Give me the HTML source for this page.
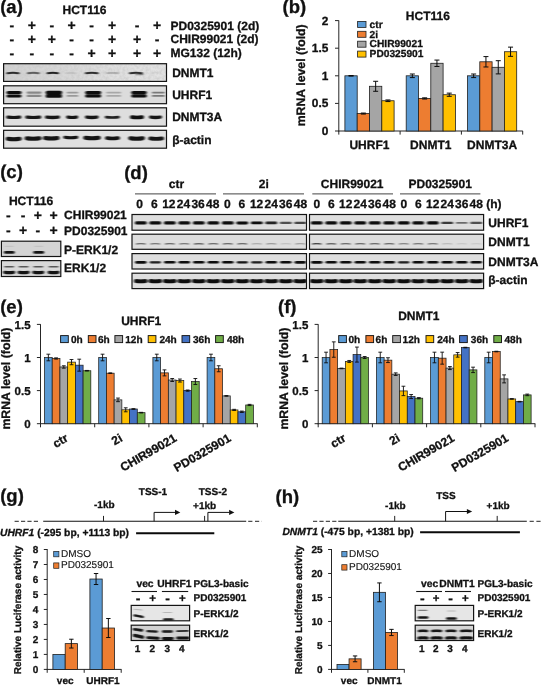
<!DOCTYPE html>
<html lang="en"><head><meta charset="utf-8"><title>Figure</title>
<style>
html,body{margin:0;padding:0;background:#fff}
svg{display:block}
text{font-family:"Liberation Sans",Arial,Helvetica,sans-serif;font-weight:700;fill:#111;stroke:#111;stroke-width:.3px;text-rendering:geometricPrecision}
text.r{stroke-width:.12px;font-weight:400}
</style></head><body>
<svg width="541" height="685" viewBox="0 0 541 685">
<defs>
<filter id="b55" filterUnits="userSpaceOnUse" x="0" y="0" width="541" height="685"><feGaussianBlur stdDeviation="0.9 0.55"/></filter>
<filter id="b40" filterUnits="userSpaceOnUse" x="0" y="0" width="541" height="685"><feGaussianBlur stdDeviation="0.8 0.4"/></filter>
<filter id="b70" filterUnits="userSpaceOnUse" x="0" y="0" width="541" height="685"><feGaussianBlur stdDeviation="1.0 0.7"/></filter>
<filter id="nz" x="0" y="0" width="100%" height="100%"><feTurbulence type="fractalNoise" baseFrequency="0.35" numOctaves="2" seed="3"/><feColorMatrix type="matrix" values="0 0 0 0 0  0 0 0 0 0  0 0 0 0 0  0 0 0 -1.6 1.1"/><feComposite in="SourceGraphic" operator="in"/></filter>
<linearGradient id="ga" x1="0" y1="0" x2="1" y2="0"><stop offset="0" stop-color="#d1d1d1"/><stop offset="0.45" stop-color="#d9d9d9"/><stop offset="0.7" stop-color="#e0e0e0"/><stop offset="1" stop-color="#e3e3e3"/></linearGradient>
</defs>
<rect width="541" height="685" fill="#fff"/>

<text x="0.20" y="13.20" font-size="18.5">(a)</text>
<text x="62.50" y="13.80" font-size="12">HCT116</text>
<text x="11.80" y="29.98" font-size="14" text-anchor="middle">-</text>
<text x="31.80" y="29.82" font-size="14" text-anchor="middle">+</text>
<text x="51.80" y="29.98" font-size="14" text-anchor="middle">-</text>
<text x="71.50" y="29.82" font-size="14" text-anchor="middle">+</text>
<text x="91.50" y="29.98" font-size="14" text-anchor="middle">-</text>
<text x="112.00" y="29.82" font-size="14" text-anchor="middle">+</text>
<text x="137.00" y="29.98" font-size="14" text-anchor="middle">-</text>
<text x="157.20" y="29.82" font-size="14" text-anchor="middle">+</text>
<text x="170.50" y="29.70" font-size="12">PD0325901 (2d)</text>
<text x="11.80" y="43.98" font-size="14" text-anchor="middle">-</text>
<text x="31.80" y="43.82" font-size="14" text-anchor="middle">+</text>
<text x="51.80" y="43.82" font-size="14" text-anchor="middle">+</text>
<text x="71.50" y="43.98" font-size="14" text-anchor="middle">-</text>
<text x="91.50" y="43.98" font-size="14" text-anchor="middle">-</text>
<text x="112.00" y="43.82" font-size="14" text-anchor="middle">+</text>
<text x="137.00" y="43.82" font-size="14" text-anchor="middle">+</text>
<text x="157.20" y="43.98" font-size="14" text-anchor="middle">-</text>
<text x="170.50" y="43.30" font-size="12">CHIR99021 (2d)</text>
<text x="11.80" y="57.78" font-size="14" text-anchor="middle">-</text>
<text x="31.80" y="57.78" font-size="14" text-anchor="middle">-</text>
<text x="51.80" y="57.78" font-size="14" text-anchor="middle">-</text>
<text x="71.50" y="57.78" font-size="14" text-anchor="middle">-</text>
<text x="91.50" y="57.62" font-size="14" text-anchor="middle">+</text>
<text x="112.00" y="57.62" font-size="14" text-anchor="middle">+</text>
<text x="137.00" y="57.62" font-size="14" text-anchor="middle">+</text>
<text x="157.20" y="57.62" font-size="14" text-anchor="middle">+</text>
<text x="170.50" y="57.20" font-size="12">MG132 (12h)</text>
<rect x="3.60" y="63.70" width="162.90" height="17.70" fill="url(#ga)"/>
<rect x="3.60" y="63.70" width="162.90" height="17.70" fill="#c6c6c6" opacity="0.7" filter="url(#nz)"/>
<clipPath id="c32"><rect x="3.60" y="63.70" width="162.90" height="17.70"/></clipPath>
<g clip-path="url(#c32)"><g filter="url(#b40)">
<path d="M7.35 73.15Q13.00 72.15 18.65 73.15" fill="none" stroke="#0a0a0a" stroke-width="2.00" stroke-linecap="round" opacity="0.85"/>
<path d="M27.80 73.15Q33.30 72.15 38.80 73.15" fill="none" stroke="#0a0a0a" stroke-width="2.00" stroke-linecap="round" opacity="0.55"/>
<path d="M47.55 73.15Q52.80 72.15 58.05 73.15" fill="none" stroke="#0a0a0a" stroke-width="2.00" stroke-linecap="round" opacity="0.90"/>
<path d="M67.00 73.15Q71.00 72.15 75.00 73.15" fill="none" stroke="#0a0a0a" stroke-width="2.00" stroke-linecap="round" opacity="0.10"/>
<path d="M86.00 73.15Q91.80 72.15 97.60 73.15" fill="none" stroke="#0a0a0a" stroke-width="2.00" stroke-linecap="round" opacity="0.85"/>
<path d="M107.00 73.15Q112.50 72.15 118.00 73.15" fill="none" stroke="#0a0a0a" stroke-width="2.00" stroke-linecap="round" opacity="0.20"/>
<path d="M130.00 73.15Q136.00 72.15 142.00 73.15" fill="none" stroke="#0a0a0a" stroke-width="2.00" stroke-linecap="round" opacity="0.85"/>
<path d="M151.00 73.15Q155.00 72.15 159.00 73.15" fill="none" stroke="#0a0a0a" stroke-width="2.00" stroke-linecap="round" opacity="0.04"/>
<path d="M136.10 74.60Q139.50 74.60 142.90 74.60" fill="none" stroke="#0a0a0a" stroke-width="1.20" stroke-linecap="round" opacity="0.35"/>
</g></g>
<rect x="3.60" y="63.70" width="162.90" height="17.70" fill="none" stroke="#141414" stroke-width="1.2"/>
<rect x="3.60" y="85.80" width="162.90" height="17.90" fill="#dcdcdc"/>
<clipPath id="c46"><rect x="3.60" y="85.80" width="162.90" height="17.90"/></clipPath>
<g clip-path="url(#c46)"><g filter="url(#b70)">
<path d="M8.00 92.60Q14.00 92.60 20.00 92.60" fill="none" stroke="#0a0a0a" stroke-width="3.00" stroke-linecap="round" opacity="1.00"/>
<path d="M8.00 95.90Q14.00 95.90 20.00 95.90" fill="none" stroke="#0a0a0a" stroke-width="3.00" stroke-linecap="round" opacity="1.00"/>
<path d="M27.65 92.60Q34.10 92.60 40.55 92.60" fill="none" stroke="#0a0a0a" stroke-width="2.10" stroke-linecap="round" opacity="0.38"/>
<path d="M27.65 95.90Q34.10 95.90 40.55 95.90" fill="none" stroke="#0a0a0a" stroke-width="2.10" stroke-linecap="round" opacity="0.38"/>
<path d="M47.50 92.60Q53.90 92.60 60.30 92.60" fill="none" stroke="#0a0a0a" stroke-width="3.70" stroke-linecap="round" opacity="1.00"/>
<path d="M47.50 95.90Q53.90 95.90 60.30 95.90" fill="none" stroke="#0a0a0a" stroke-width="3.70" stroke-linecap="round" opacity="1.00"/>
<path d="M67.55 92.60Q72.50 92.60 77.45 92.60" fill="none" stroke="#0a0a0a" stroke-width="1.80" stroke-linecap="round" opacity="0.30"/>
<path d="M67.55 95.90Q72.50 95.90 77.45 95.90" fill="none" stroke="#0a0a0a" stroke-width="1.80" stroke-linecap="round" opacity="0.30"/>
<path d="M86.80 92.60Q93.20 92.60 99.60 92.60" fill="none" stroke="#0a0a0a" stroke-width="3.20" stroke-linecap="round" opacity="1.00"/>
<path d="M86.80 95.90Q93.20 95.90 99.60 95.90" fill="none" stroke="#0a0a0a" stroke-width="3.20" stroke-linecap="round" opacity="1.00"/>
<path d="M107.10 92.60Q113.70 92.60 120.30 92.60" fill="none" stroke="#0a0a0a" stroke-width="1.80" stroke-linecap="round" opacity="0.24"/>
<path d="M107.10 95.90Q113.70 95.90 120.30 95.90" fill="none" stroke="#0a0a0a" stroke-width="1.80" stroke-linecap="round" opacity="0.24"/>
<path d="M132.95 92.60Q139.00 92.60 145.05 92.60" fill="none" stroke="#0a0a0a" stroke-width="3.40" stroke-linecap="round" opacity="1.00"/>
<path d="M132.95 95.90Q139.00 95.90 145.05 95.90" fill="none" stroke="#0a0a0a" stroke-width="3.40" stroke-linecap="round" opacity="1.00"/>
<path d="M152.75 92.60Q158.30 92.60 163.85 92.60" fill="none" stroke="#0a0a0a" stroke-width="1.90" stroke-linecap="round" opacity="0.45"/>
<path d="M152.75 95.90Q158.30 95.90 163.85 95.90" fill="none" stroke="#0a0a0a" stroke-width="1.90" stroke-linecap="round" opacity="0.45"/>
</g></g>
<rect x="3.60" y="85.80" width="162.90" height="17.90" fill="none" stroke="#141414" stroke-width="1.2"/>
<rect x="3.60" y="107.80" width="162.90" height="18.40" fill="#dedede"/>
<clipPath id="c67"><rect x="3.60" y="107.80" width="162.90" height="18.40"/></clipPath>
<g clip-path="url(#c67)"><g filter="url(#b40)">
<path d="M7.85 117.10Q13.80 117.90 19.75 117.10" fill="none" stroke="#0a0a0a" stroke-width="3.10" stroke-linecap="round" opacity="0.97"/>
<path d="M26.90 117.10Q33.30 117.90 39.70 117.10" fill="none" stroke="#0a0a0a" stroke-width="3.20" stroke-linecap="round" opacity="0.95"/>
<path d="M46.65 117.10Q52.50 117.90 58.35 117.10" fill="none" stroke="#0a0a0a" stroke-width="3.30" stroke-linecap="round" opacity="0.97"/>
<path d="M67.80 117.10Q72.20 117.90 76.60 117.10" fill="none" stroke="#0a0a0a" stroke-width="3.20" stroke-linecap="round" opacity="0.97"/>
<path d="M86.65 117.10Q91.80 117.90 96.95 117.10" fill="none" stroke="#0a0a0a" stroke-width="3.30" stroke-linecap="round" opacity="0.97"/>
<path d="M106.10 117.10Q112.30 117.90 118.50 117.10" fill="none" stroke="#0a0a0a" stroke-width="2.60" stroke-linecap="round" opacity="0.90"/>
<path d="M131.85 117.10Q137.00 117.90 142.15 117.10" fill="none" stroke="#0a0a0a" stroke-width="3.70" stroke-linecap="round" opacity="1.00"/>
<path d="M150.65 117.10Q155.50 117.90 160.35 117.10" fill="none" stroke="#0a0a0a" stroke-width="3.30" stroke-linecap="round" opacity="0.97"/>
</g></g>
<rect x="3.60" y="107.80" width="162.90" height="18.40" fill="none" stroke="#141414" stroke-width="1.2"/>
<rect x="3.60" y="130.30" width="162.90" height="17.90" fill="#e0e0e0"/>
<clipPath id="c80"><rect x="3.60" y="130.30" width="162.90" height="17.90"/></clipPath>
<g clip-path="url(#c80)"><g filter="url(#b40)">
<path d="M7.70 138.75Q13.70 139.75 19.70 138.75" fill="none" stroke="#0a0a0a" stroke-width="4.00" stroke-linecap="round" opacity="0.97"/>
<path d="M26.60 138.35Q33.10 139.35 39.60 138.35" fill="none" stroke="#0a0a0a" stroke-width="4.00" stroke-linecap="round" opacity="0.97"/>
<path d="M45.00 138.05Q51.30 139.05 57.60 138.05" fill="none" stroke="#0a0a0a" stroke-width="4.00" stroke-linecap="round" opacity="0.97"/>
<path d="M64.80 137.35Q70.80 138.35 76.80 137.35" fill="none" stroke="#0a0a0a" stroke-width="3.00" stroke-linecap="round" opacity="0.97"/>
<path d="M85.25 137.85Q92.00 138.85 98.75 137.85" fill="none" stroke="#0a0a0a" stroke-width="4.00" stroke-linecap="round" opacity="0.97"/>
<path d="M106.80 138.05Q112.50 139.05 118.20 138.05" fill="none" stroke="#0a0a0a" stroke-width="3.60" stroke-linecap="round" opacity="0.97"/>
<path d="M130.25 138.15Q136.60 139.15 142.95 138.15" fill="none" stroke="#0a0a0a" stroke-width="4.00" stroke-linecap="round" opacity="0.97"/>
<path d="M150.25 138.45Q156.20 139.45 162.15 138.45" fill="none" stroke="#0a0a0a" stroke-width="3.80" stroke-linecap="round" opacity="0.97"/>
</g></g>
<rect x="3.60" y="130.30" width="162.90" height="17.90" fill="none" stroke="#141414" stroke-width="1.2"/>
<text x="172.20" y="77.30" font-size="12">DNMT1</text>
<text x="172.20" y="99.20" font-size="12">UHRF1</text>
<text x="172.20" y="121.30" font-size="12">DNMT3A</text>
<text x="172.20" y="143.80" font-size="12">β-actin</text>
<text x="282.60" y="13.30" font-size="18.5">(b)</text>
<text x="405.80" y="20.10" font-size="12">HCT116</text>
<line x1="338.80" y1="20.40" x2="338.80" y2="131.50" stroke="#262626" stroke-width="1"/>
<line x1="338.30" y1="131.00" x2="522.80" y2="131.00" stroke="#262626" stroke-width="1"/>
<line x1="335.00" y1="131.00" x2="338.80" y2="131.00" stroke="#262626" stroke-width="1"/>
<text x="328.40" y="134.90" font-size="11.9" text-anchor="end">0</text>
<line x1="335.00" y1="103.40" x2="338.80" y2="103.40" stroke="#262626" stroke-width="1"/>
<text x="328.40" y="107.30" font-size="11.9" text-anchor="end">0.5</text>
<line x1="335.00" y1="75.80" x2="338.80" y2="75.80" stroke="#262626" stroke-width="1"/>
<text x="328.40" y="79.70" font-size="11.9" text-anchor="end">1</text>
<line x1="335.00" y1="48.20" x2="338.80" y2="48.20" stroke="#262626" stroke-width="1"/>
<text x="328.40" y="52.10" font-size="11.9" text-anchor="end">1.5</text>
<line x1="335.00" y1="20.60" x2="338.80" y2="20.60" stroke="#262626" stroke-width="1"/>
<text x="328.40" y="24.50" font-size="11.9" text-anchor="end">2</text>
<line x1="338.80" y1="131.00" x2="338.80" y2="134.60" stroke="#262626" stroke-width="1"/>
<line x1="400.10" y1="131.00" x2="400.10" y2="134.60" stroke="#262626" stroke-width="1"/>
<line x1="461.40" y1="131.00" x2="461.40" y2="134.60" stroke="#262626" stroke-width="1"/>
<line x1="522.70" y1="131.00" x2="522.70" y2="134.60" stroke="#262626" stroke-width="1"/>
<text x="305.40" y="75.30" font-size="12.3" text-anchor="middle" transform="rotate(-90 305.40 75.30)">mRNA level (fold)</text>
<rect x="344.90" y="75.80" width="12.30" height="55.20" fill="#5B9BD5" stroke="#1f1f1f" stroke-width="0.8"/>
<rect x="357.20" y="113.56" width="12.30" height="17.44" fill="#ED7D31" stroke="#1f1f1f" stroke-width="0.8"/>
<rect x="369.50" y="86.29" width="12.30" height="44.71" fill="#A5A5A5" stroke="#1f1f1f" stroke-width="0.8"/>
<rect x="381.80" y="100.75" width="12.30" height="30.25" fill="#FFC000" stroke="#1f1f1f" stroke-width="0.8"/>
<line x1="351.05" y1="75.50" x2="351.05" y2="76.10" stroke="#0c0c0c" stroke-width="1.0"/>
<line x1="348.55" y1="75.50" x2="353.55" y2="75.50" stroke="#0c0c0c" stroke-width="1.0"/>
<line x1="348.55" y1="76.10" x2="353.55" y2="76.10" stroke="#0c0c0c" stroke-width="1.0"/>
<line x1="363.35" y1="113.06" x2="363.35" y2="114.06" stroke="#0c0c0c" stroke-width="1.0"/>
<line x1="360.85" y1="113.06" x2="365.85" y2="113.06" stroke="#0c0c0c" stroke-width="1.0"/>
<line x1="360.85" y1="114.06" x2="365.85" y2="114.06" stroke="#0c0c0c" stroke-width="1.0"/>
<line x1="375.65" y1="81.29" x2="375.65" y2="91.29" stroke="#0c0c0c" stroke-width="1.0"/>
<line x1="373.15" y1="81.29" x2="378.15" y2="81.29" stroke="#0c0c0c" stroke-width="1.0"/>
<line x1="373.15" y1="91.29" x2="378.15" y2="91.29" stroke="#0c0c0c" stroke-width="1.0"/>
<line x1="387.95" y1="99.95" x2="387.95" y2="101.55" stroke="#0c0c0c" stroke-width="1.0"/>
<line x1="385.45" y1="99.95" x2="390.45" y2="99.95" stroke="#0c0c0c" stroke-width="1.0"/>
<line x1="385.45" y1="101.55" x2="390.45" y2="101.55" stroke="#0c0c0c" stroke-width="1.0"/>
<rect x="406.20" y="75.80" width="12.30" height="55.20" fill="#5B9BD5" stroke="#1f1f1f" stroke-width="0.8"/>
<rect x="418.50" y="98.43" width="12.30" height="32.57" fill="#ED7D31" stroke="#1f1f1f" stroke-width="0.8"/>
<rect x="430.80" y="63.27" width="12.30" height="67.73" fill="#A5A5A5" stroke="#1f1f1f" stroke-width="0.8"/>
<rect x="443.10" y="94.73" width="12.30" height="36.27" fill="#FFC000" stroke="#1f1f1f" stroke-width="0.8"/>
<line x1="412.35" y1="74.00" x2="412.35" y2="77.60" stroke="#0c0c0c" stroke-width="1.0"/>
<line x1="409.85" y1="74.00" x2="414.85" y2="74.00" stroke="#0c0c0c" stroke-width="1.0"/>
<line x1="409.85" y1="77.60" x2="414.85" y2="77.60" stroke="#0c0c0c" stroke-width="1.0"/>
<line x1="424.65" y1="97.83" x2="424.65" y2="99.03" stroke="#0c0c0c" stroke-width="1.0"/>
<line x1="422.15" y1="97.83" x2="427.15" y2="97.83" stroke="#0c0c0c" stroke-width="1.0"/>
<line x1="422.15" y1="99.03" x2="427.15" y2="99.03" stroke="#0c0c0c" stroke-width="1.0"/>
<line x1="436.95" y1="60.07" x2="436.95" y2="66.47" stroke="#0c0c0c" stroke-width="1.0"/>
<line x1="434.45" y1="60.07" x2="439.45" y2="60.07" stroke="#0c0c0c" stroke-width="1.0"/>
<line x1="434.45" y1="66.47" x2="439.45" y2="66.47" stroke="#0c0c0c" stroke-width="1.0"/>
<line x1="449.25" y1="93.13" x2="449.25" y2="96.33" stroke="#0c0c0c" stroke-width="1.0"/>
<line x1="446.75" y1="93.13" x2="451.75" y2="93.13" stroke="#0c0c0c" stroke-width="1.0"/>
<line x1="446.75" y1="96.33" x2="451.75" y2="96.33" stroke="#0c0c0c" stroke-width="1.0"/>
<rect x="467.50" y="75.80" width="12.30" height="55.20" fill="#5B9BD5" stroke="#1f1f1f" stroke-width="0.8"/>
<rect x="479.80" y="61.78" width="12.30" height="69.22" fill="#ED7D31" stroke="#1f1f1f" stroke-width="0.8"/>
<rect x="492.10" y="67.30" width="12.30" height="63.70" fill="#A5A5A5" stroke="#1f1f1f" stroke-width="0.8"/>
<rect x="504.40" y="51.73" width="12.30" height="79.27" fill="#FFC000" stroke="#1f1f1f" stroke-width="0.8"/>
<line x1="473.65" y1="74.00" x2="473.65" y2="77.60" stroke="#0c0c0c" stroke-width="1.0"/>
<line x1="471.15" y1="74.00" x2="476.15" y2="74.00" stroke="#0c0c0c" stroke-width="1.0"/>
<line x1="471.15" y1="77.60" x2="476.15" y2="77.60" stroke="#0c0c0c" stroke-width="1.0"/>
<line x1="485.95" y1="56.58" x2="485.95" y2="66.98" stroke="#0c0c0c" stroke-width="1.0"/>
<line x1="483.45" y1="56.58" x2="488.45" y2="56.58" stroke="#0c0c0c" stroke-width="1.0"/>
<line x1="483.45" y1="66.98" x2="488.45" y2="66.98" stroke="#0c0c0c" stroke-width="1.0"/>
<line x1="498.25" y1="60.70" x2="498.25" y2="73.90" stroke="#0c0c0c" stroke-width="1.0"/>
<line x1="495.75" y1="60.70" x2="500.75" y2="60.70" stroke="#0c0c0c" stroke-width="1.0"/>
<line x1="495.75" y1="73.90" x2="500.75" y2="73.90" stroke="#0c0c0c" stroke-width="1.0"/>
<line x1="510.55" y1="47.13" x2="510.55" y2="56.33" stroke="#0c0c0c" stroke-width="1.0"/>
<line x1="508.05" y1="47.13" x2="513.05" y2="47.13" stroke="#0c0c0c" stroke-width="1.0"/>
<line x1="508.05" y1="56.33" x2="513.05" y2="56.33" stroke="#0c0c0c" stroke-width="1.0"/>
<text x="369.45" y="149.40" font-size="12" text-anchor="middle">UHRF1</text>
<text x="430.75" y="149.40" font-size="12" text-anchor="middle">DNMT1</text>
<text x="492.05" y="149.40" font-size="12" text-anchor="middle">DNMT3A</text>
<rect x="357.60" y="21.40" width="8.40" height="6.00" fill="#5B9BD5" stroke="#1f1f1f" stroke-width="0.8"/>
<text x="369.60" y="27.60" font-size="10.2">ctr</text>
<rect x="357.60" y="31.30" width="8.40" height="6.00" fill="#ED7D31" stroke="#1f1f1f" stroke-width="0.8"/>
<text x="369.60" y="37.50" font-size="10.2">2i</text>
<rect x="357.60" y="41.20" width="8.40" height="6.00" fill="#A5A5A5" stroke="#1f1f1f" stroke-width="0.8"/>
<text x="369.60" y="47.40" font-size="10.2">CHIR99021</text>
<rect x="357.60" y="51.10" width="8.40" height="6.00" fill="#FFC000" stroke="#1f1f1f" stroke-width="0.8"/>
<text x="369.60" y="57.30" font-size="10.2">PD0325901</text>
<text x="0.20" y="178.40" font-size="18.5">(c)</text>
<text x="8.90" y="204.70" font-size="12.1">HCT116</text>
<text x="8.30" y="220.18" font-size="14" text-anchor="middle">-</text>
<text x="23.10" y="220.18" font-size="14" text-anchor="middle">-</text>
<text x="37.80" y="220.02" font-size="14" text-anchor="middle">+</text>
<text x="53.50" y="220.02" font-size="14" text-anchor="middle">+</text>
<text x="64.10" y="219.10" font-size="12">CHIR99021</text>
<text x="8.30" y="235.48" font-size="14" text-anchor="middle">-</text>
<text x="23.10" y="235.32" font-size="14" text-anchor="middle">+</text>
<text x="37.80" y="235.48" font-size="14" text-anchor="middle">-</text>
<text x="53.50" y="235.32" font-size="14" text-anchor="middle">+</text>
<text x="64.10" y="234.90" font-size="12">PD0325901</text>
<rect x="1.40" y="241.20" width="59.40" height="15.30" fill="#d4d4d4"/>
<clipPath id="c187"><rect x="1.40" y="241.20" width="59.40" height="15.30"/></clipPath>
<g clip-path="url(#c187)"><g filter="url(#b40)">
<path d="M5.40 252.40Q9.30 252.40 13.20 252.40" fill="none" stroke="#0a0a0a" stroke-width="2.80" stroke-linecap="round" opacity="0.97"/>
<path d="M34.70 252.40Q38.70 252.40 42.70 252.40" fill="none" stroke="#0a0a0a" stroke-width="2.80" stroke-linecap="round" opacity="0.97"/>
<path d="M5.30 246.30Q9.30 246.30 13.30 246.30" fill="none" stroke="#0a0a0a" stroke-width="1.00" stroke-linecap="round" opacity="0.10"/>
<path d="M34.70 246.30Q38.70 246.30 42.70 246.30" fill="none" stroke="#0a0a0a" stroke-width="1.00" stroke-linecap="round" opacity="0.10"/>
</g></g>
<rect x="1.40" y="241.20" width="59.40" height="15.30" fill="none" stroke="#141414" stroke-width="1.2"/>
<rect x="1.40" y="260.60" width="59.40" height="15.90" fill="#d8d8d8"/>
<clipPath id="c196"><rect x="1.40" y="260.60" width="59.40" height="15.90"/></clipPath>
<g clip-path="url(#c196)"><g filter="url(#b40)">
<path d="M4.90 266.80Q9.20 266.80 13.50 266.80" fill="none" stroke="#0a0a0a" stroke-width="1.40" stroke-linecap="round" opacity="0.60"/>
<path d="M4.90 272.35Q9.20 272.95 13.50 272.35" fill="none" stroke="#0a0a0a" stroke-width="3.40" stroke-linecap="round" opacity="0.97"/>
<path d="M19.30 266.80Q23.60 266.80 27.90 266.80" fill="none" stroke="#0a0a0a" stroke-width="1.40" stroke-linecap="round" opacity="0.60"/>
<path d="M19.30 272.35Q23.60 272.95 27.90 272.35" fill="none" stroke="#0a0a0a" stroke-width="3.40" stroke-linecap="round" opacity="0.97"/>
<path d="M34.00 266.80Q38.30 266.80 42.60 266.80" fill="none" stroke="#0a0a0a" stroke-width="1.40" stroke-linecap="round" opacity="0.60"/>
<path d="M34.00 272.35Q38.30 272.95 42.60 272.35" fill="none" stroke="#0a0a0a" stroke-width="3.40" stroke-linecap="round" opacity="0.97"/>
<path d="M49.30 266.80Q53.60 266.80 57.90 266.80" fill="none" stroke="#0a0a0a" stroke-width="1.40" stroke-linecap="round" opacity="0.60"/>
<path d="M49.30 272.35Q53.60 272.95 57.90 272.35" fill="none" stroke="#0a0a0a" stroke-width="3.40" stroke-linecap="round" opacity="0.97"/>
</g></g>
<rect x="1.40" y="260.60" width="59.40" height="15.90" fill="none" stroke="#141414" stroke-width="1.2"/>
<text x="64.10" y="253.70" font-size="12">P-ERK1/2</text>
<text x="64.10" y="272.40" font-size="12">ERK1/2</text>
<text x="124.20" y="178.60" font-size="18.5">(d)</text>
<text x="176.50" y="187.60" font-size="12" text-anchor="middle">ctr</text>
<text x="263.80" y="187.60" font-size="12" text-anchor="middle">2i</text>
<text x="352.20" y="187.60" font-size="12" text-anchor="middle">CHIR99021</text>
<text x="440.20" y="187.60" font-size="12" text-anchor="middle">PD0325901</text>
<line x1="135.00" y1="193.90" x2="216.00" y2="193.90" stroke="#444" stroke-width="1"/>
<line x1="223.00" y1="193.90" x2="304.00" y2="193.90" stroke="#444" stroke-width="1"/>
<line x1="312.30" y1="193.90" x2="393.00" y2="193.90" stroke="#444" stroke-width="1"/>
<line x1="400.00" y1="193.90" x2="480.40" y2="193.90" stroke="#444" stroke-width="1"/>
<text x="139.60" y="207.90" font-size="12" text-anchor="middle">0</text>
<text x="154.22" y="207.90" font-size="12" text-anchor="middle">6</text>
<text x="168.84" y="207.90" font-size="12" text-anchor="middle">12</text>
<text x="183.46" y="207.90" font-size="12" text-anchor="middle">24</text>
<text x="198.08" y="207.90" font-size="12" text-anchor="middle">36</text>
<text x="212.70" y="207.90" font-size="12" text-anchor="middle">48</text>
<text x="227.32" y="207.90" font-size="12" text-anchor="middle">0</text>
<text x="241.94" y="207.90" font-size="12" text-anchor="middle">6</text>
<text x="256.56" y="207.90" font-size="12" text-anchor="middle">12</text>
<text x="271.18" y="207.90" font-size="12" text-anchor="middle">24</text>
<text x="285.80" y="207.90" font-size="12" text-anchor="middle">36</text>
<text x="300.42" y="207.90" font-size="12" text-anchor="middle">48</text>
<text x="316.75" y="207.90" font-size="12" text-anchor="middle">0</text>
<text x="331.25" y="207.90" font-size="12" text-anchor="middle">6</text>
<text x="345.75" y="207.90" font-size="12" text-anchor="middle">12</text>
<text x="360.25" y="207.90" font-size="12" text-anchor="middle">24</text>
<text x="374.75" y="207.90" font-size="12" text-anchor="middle">36</text>
<text x="389.25" y="207.90" font-size="12" text-anchor="middle">48</text>
<text x="403.75" y="207.90" font-size="12" text-anchor="middle">0</text>
<text x="418.25" y="207.90" font-size="12" text-anchor="middle">6</text>
<text x="432.75" y="207.90" font-size="12" text-anchor="middle">12</text>
<text x="447.25" y="207.90" font-size="12" text-anchor="middle">24</text>
<text x="461.75" y="207.90" font-size="12" text-anchor="middle">36</text>
<text x="476.25" y="207.90" font-size="12" text-anchor="middle">48</text>
<text x="486.30" y="207.90" font-size="12">(h)</text>
<rect x="132.00" y="214.50" width="174.50" height="15.70" fill="#dedede"/>
<clipPath id="c245"><rect x="132.00" y="214.50" width="174.50" height="15.70"/></clipPath>
<g clip-path="url(#c245)"><g filter="url(#b40)">
<path d="M136.55 222.90Q140.80 222.90 145.05 222.90" fill="none" stroke="#0a0a0a" stroke-width="3.30" stroke-linecap="round" opacity="1.00"/>
<path d="M150.99 222.90Q155.30 222.90 159.61 222.90" fill="none" stroke="#0a0a0a" stroke-width="3.18" stroke-linecap="round" opacity="1.00"/>
<path d="M165.55 222.90Q169.80 222.90 174.05 222.90" fill="none" stroke="#0a0a0a" stroke-width="3.30" stroke-linecap="round" opacity="1.00"/>
<path d="M180.05 222.90Q184.30 222.90 188.55 222.90" fill="none" stroke="#0a0a0a" stroke-width="3.30" stroke-linecap="round" opacity="1.00"/>
<path d="M194.55 222.90Q198.80 222.90 203.05 222.90" fill="none" stroke="#0a0a0a" stroke-width="3.30" stroke-linecap="round" opacity="1.00"/>
<path d="M209.05 222.90Q213.30 222.90 217.55 222.90" fill="none" stroke="#0a0a0a" stroke-width="3.30" stroke-linecap="round" opacity="1.00"/>
<path d="M223.55 222.90Q227.80 222.90 232.05 222.90" fill="none" stroke="#0a0a0a" stroke-width="3.30" stroke-linecap="round" opacity="1.00"/>
<path d="M237.88 222.90Q242.30 222.90 246.72 222.90" fill="none" stroke="#0a0a0a" stroke-width="2.95" stroke-linecap="round" opacity="1.00"/>
<path d="M252.32 222.90Q256.80 222.90 261.28 222.90" fill="none" stroke="#0a0a0a" stroke-width="2.84" stroke-linecap="round" opacity="1.00"/>
<path d="M266.70 222.90Q271.30 222.90 275.90 222.90" fill="none" stroke="#0a0a0a" stroke-width="2.61" stroke-linecap="round" opacity="0.90"/>
<path d="M280.97 222.90Q285.80 222.90 290.63 222.90" fill="none" stroke="#0a0a0a" stroke-width="2.14" stroke-linecap="round" opacity="0.70"/>
<path d="M295.53 222.90Q300.30 222.90 305.07 222.90" fill="none" stroke="#0a0a0a" stroke-width="2.26" stroke-linecap="round" opacity="0.75"/>
</g></g>
<rect x="132.00" y="214.50" width="174.50" height="15.70" fill="none" stroke="#141414" stroke-width="1.2"/>
<rect x="309.50" y="214.50" width="174.10" height="15.70" fill="#dedede"/>
<clipPath id="c262"><rect x="309.50" y="214.50" width="174.10" height="15.70"/></clipPath>
<g clip-path="url(#c262)"><g filter="url(#b40)">
<path d="M312.50 222.90Q316.75 222.90 321.00 222.90" fill="none" stroke="#0a0a0a" stroke-width="3.30" stroke-linecap="round" opacity="1.00"/>
<path d="M327.00 222.90Q331.25 222.90 335.50 222.90" fill="none" stroke="#0a0a0a" stroke-width="3.30" stroke-linecap="round" opacity="1.00"/>
<path d="M341.50 222.90Q345.75 222.90 350.00 222.90" fill="none" stroke="#0a0a0a" stroke-width="3.30" stroke-linecap="round" opacity="1.00"/>
<path d="M356.00 222.90Q360.25 222.90 364.50 222.90" fill="none" stroke="#0a0a0a" stroke-width="3.30" stroke-linecap="round" opacity="1.00"/>
<path d="M370.38 222.90Q374.75 222.90 379.12 222.90" fill="none" stroke="#0a0a0a" stroke-width="3.07" stroke-linecap="round" opacity="1.00"/>
<path d="M384.91 222.90Q389.25 222.90 393.59 222.90" fill="none" stroke="#0a0a0a" stroke-width="3.12" stroke-linecap="round" opacity="1.00"/>
<path d="M399.50 222.90Q403.75 222.90 408.00 222.90" fill="none" stroke="#0a0a0a" stroke-width="3.30" stroke-linecap="round" opacity="1.00"/>
<path d="M414.00 222.90Q418.25 222.90 422.50 222.90" fill="none" stroke="#0a0a0a" stroke-width="3.30" stroke-linecap="round" opacity="1.00"/>
<path d="M428.50 222.90Q432.75 222.90 437.00 222.90" fill="none" stroke="#0a0a0a" stroke-width="3.30" stroke-linecap="round" opacity="1.00"/>
<path d="M442.54 222.90Q447.25 222.90 451.96 222.90" fill="none" stroke="#0a0a0a" stroke-width="2.38" stroke-linecap="round" opacity="0.80"/>
<path d="M456.71 222.90Q461.75 222.90 466.79 222.90" fill="none" stroke="#0a0a0a" stroke-width="1.73" stroke-linecap="round" opacity="0.52"/>
<path d="M471.42 222.90Q476.25 222.90 481.08 222.90" fill="none" stroke="#0a0a0a" stroke-width="2.14" stroke-linecap="round" opacity="0.70"/>
</g></g>
<rect x="309.50" y="214.50" width="174.10" height="15.70" fill="none" stroke="#141414" stroke-width="1.2"/>
<rect x="132.00" y="234.20" width="174.50" height="15.10" fill="#dedede"/>
<clipPath id="c279"><rect x="132.00" y="234.20" width="174.50" height="15.10"/></clipPath>
<g clip-path="url(#c279)"><g filter="url(#b40)">
<path d="M136.29 243.95Q140.80 243.35 145.31 243.95" fill="none" stroke="#0a0a0a" stroke-width="0.97" stroke-linecap="round" opacity="0.70"/>
<path d="M150.76 243.95Q155.30 243.35 159.84 243.95" fill="none" stroke="#0a0a0a" stroke-width="0.92" stroke-linecap="round" opacity="0.65"/>
<path d="M165.29 243.95Q169.80 243.35 174.31 243.95" fill="none" stroke="#0a0a0a" stroke-width="0.97" stroke-linecap="round" opacity="0.70"/>
<path d="M179.76 243.95Q184.30 243.35 188.84 243.95" fill="none" stroke="#0a0a0a" stroke-width="0.92" stroke-linecap="round" opacity="0.65"/>
<path d="M194.31 243.95Q198.80 243.35 203.29 243.95" fill="none" stroke="#0a0a0a" stroke-width="1.03" stroke-linecap="round" opacity="0.75"/>
<path d="M208.79 243.95Q213.30 243.35 217.81 243.95" fill="none" stroke="#0a0a0a" stroke-width="0.97" stroke-linecap="round" opacity="0.70"/>
<path d="M223.29 243.95Q227.80 243.35 232.31 243.95" fill="none" stroke="#0a0a0a" stroke-width="0.97" stroke-linecap="round" opacity="0.70"/>
<path d="M237.79 243.95Q242.30 243.35 246.81 243.95" fill="none" stroke="#0a0a0a" stroke-width="0.97" stroke-linecap="round" opacity="0.70"/>
<path d="M252.14 243.95Q256.80 243.35 261.46 243.95" fill="none" stroke="#0a0a0a" stroke-width="0.68" stroke-linecap="round" opacity="0.42"/>
<path d="M266.68 243.95Q271.30 243.35 275.92 243.95" fill="none" stroke="#0a0a0a" stroke-width="0.77" stroke-linecap="round" opacity="0.50"/>
<path d="M281.08 243.95Q285.80 243.35 290.52 243.95" fill="none" stroke="#0a0a0a" stroke-width="0.55" stroke-linecap="round" opacity="0.30"/>
<path d="M295.67 243.95Q300.30 243.35 304.93 243.95" fill="none" stroke="#0a0a0a" stroke-width="0.74" stroke-linecap="round" opacity="0.48"/>
</g></g>
<rect x="132.00" y="234.20" width="174.50" height="15.10" fill="none" stroke="#141414" stroke-width="1.2"/>
<rect x="309.50" y="234.20" width="174.10" height="15.10" fill="#dedede"/>
<clipPath id="c296"><rect x="309.50" y="234.20" width="174.10" height="15.10"/></clipPath>
<g clip-path="url(#c296)"><g filter="url(#b40)">
<path d="M312.29 243.95Q316.75 243.35 321.21 243.95" fill="none" stroke="#0a0a0a" stroke-width="1.08" stroke-linecap="round" opacity="0.80"/>
<path d="M326.76 243.95Q331.25 243.35 335.74 243.95" fill="none" stroke="#0a0a0a" stroke-width="1.03" stroke-linecap="round" opacity="0.75"/>
<path d="M341.24 243.95Q345.75 243.35 350.26 243.95" fill="none" stroke="#0a0a0a" stroke-width="0.97" stroke-linecap="round" opacity="0.70"/>
<path d="M355.74 243.95Q360.25 243.35 364.76 243.95" fill="none" stroke="#0a0a0a" stroke-width="0.97" stroke-linecap="round" opacity="0.70"/>
<path d="M370.24 243.95Q374.75 243.35 379.26 243.95" fill="none" stroke="#0a0a0a" stroke-width="0.97" stroke-linecap="round" opacity="0.70"/>
<path d="M384.74 243.95Q389.25 243.35 393.76 243.95" fill="none" stroke="#0a0a0a" stroke-width="0.97" stroke-linecap="round" opacity="0.70"/>
<path d="M399.19 243.95Q403.75 243.35 408.31 243.95" fill="none" stroke="#0a0a0a" stroke-width="0.87" stroke-linecap="round" opacity="0.60"/>
<path d="M413.71 243.95Q418.25 243.35 422.79 243.95" fill="none" stroke="#0a0a0a" stroke-width="0.92" stroke-linecap="round" opacity="0.65"/>
<path d="M428.21 243.95Q432.75 243.35 437.29 243.95" fill="none" stroke="#0a0a0a" stroke-width="0.92" stroke-linecap="round" opacity="0.65"/>
<path d="M442.55 243.95Q447.25 243.35 451.95 243.95" fill="none" stroke="#0a0a0a" stroke-width="0.60" stroke-linecap="round" opacity="0.34"/>
<path d="M457.00 243.95Q461.75 243.35 466.50 243.95" fill="none" stroke="#0a0a0a" stroke-width="0.50" stroke-linecap="round" opacity="0.25"/>
<path d="M471.50 243.95Q476.25 243.35 481.00 243.95" fill="none" stroke="#0a0a0a" stroke-width="0.49" stroke-linecap="round" opacity="0.24"/>
</g></g>
<rect x="309.50" y="234.20" width="174.10" height="15.10" fill="none" stroke="#141414" stroke-width="1.2"/>
<rect x="132.00" y="253.60" width="174.50" height="15.40" fill="#dedede"/>
<clipPath id="c313"><rect x="132.00" y="253.60" width="174.50" height="15.40"/></clipPath>
<g clip-path="url(#c313)"><g filter="url(#b40)">
<path d="M136.55 262.30Q140.80 262.30 145.05 262.30" fill="none" stroke="#0a0a0a" stroke-width="2.80" stroke-linecap="round" opacity="1.00"/>
<path d="M150.76 262.30Q155.30 262.30 159.84 262.30" fill="none" stroke="#0a0a0a" stroke-width="2.21" stroke-linecap="round" opacity="0.90"/>
<path d="M165.35 262.30Q169.80 262.30 174.25 262.30" fill="none" stroke="#0a0a0a" stroke-width="2.41" stroke-linecap="round" opacity="1.00"/>
<path d="M179.90 262.30Q184.30 262.30 188.70 262.30" fill="none" stroke="#0a0a0a" stroke-width="2.51" stroke-linecap="round" opacity="1.00"/>
<path d="M194.35 262.30Q198.80 262.30 203.25 262.30" fill="none" stroke="#0a0a0a" stroke-width="2.41" stroke-linecap="round" opacity="1.00"/>
<path d="M208.95 262.30Q213.30 262.30 217.65 262.30" fill="none" stroke="#0a0a0a" stroke-width="2.60" stroke-linecap="round" opacity="1.00"/>
<path d="M223.40 262.30Q227.80 262.30 232.20 262.30" fill="none" stroke="#0a0a0a" stroke-width="2.51" stroke-linecap="round" opacity="1.00"/>
<path d="M237.81 262.30Q242.30 262.30 246.80 262.30" fill="none" stroke="#0a0a0a" stroke-width="2.31" stroke-linecap="round" opacity="0.95"/>
<path d="M252.26 262.30Q256.80 262.30 261.34 262.30" fill="none" stroke="#0a0a0a" stroke-width="2.21" stroke-linecap="round" opacity="0.90"/>
<path d="M266.95 262.30Q271.30 262.30 275.65 262.30" fill="none" stroke="#0a0a0a" stroke-width="2.60" stroke-linecap="round" opacity="1.00"/>
<path d="M281.47 262.30Q285.80 262.30 290.13 262.30" fill="none" stroke="#0a0a0a" stroke-width="2.64" stroke-linecap="round" opacity="1.00"/>
<path d="M296.00 262.30Q300.30 262.30 304.60 262.30" fill="none" stroke="#0a0a0a" stroke-width="2.70" stroke-linecap="round" opacity="1.00"/>
</g></g>
<rect x="132.00" y="253.60" width="174.50" height="15.40" fill="none" stroke="#141414" stroke-width="1.2"/>
<rect x="309.50" y="253.60" width="174.10" height="15.40" fill="#dedede"/>
<clipPath id="c330"><rect x="309.50" y="253.60" width="174.10" height="15.40"/></clipPath>
<g clip-path="url(#c330)"><g filter="url(#b40)">
<path d="M312.45 262.30Q316.75 262.30 321.05 262.30" fill="none" stroke="#0a0a0a" stroke-width="2.70" stroke-linecap="round" opacity="1.00"/>
<path d="M326.85 262.30Q331.25 262.30 335.65 262.30" fill="none" stroke="#0a0a0a" stroke-width="2.51" stroke-linecap="round" opacity="1.00"/>
<path d="M341.38 262.30Q345.75 262.30 350.12 262.30" fill="none" stroke="#0a0a0a" stroke-width="2.56" stroke-linecap="round" opacity="1.00"/>
<path d="M355.90 262.30Q360.25 262.30 364.60 262.30" fill="none" stroke="#0a0a0a" stroke-width="2.60" stroke-linecap="round" opacity="1.00"/>
<path d="M370.38 262.30Q374.75 262.30 379.12 262.30" fill="none" stroke="#0a0a0a" stroke-width="2.56" stroke-linecap="round" opacity="1.00"/>
<path d="M384.88 262.30Q389.25 262.30 393.62 262.30" fill="none" stroke="#0a0a0a" stroke-width="2.56" stroke-linecap="round" opacity="1.00"/>
<path d="M399.21 262.30Q403.75 262.30 408.29 262.30" fill="none" stroke="#0a0a0a" stroke-width="2.21" stroke-linecap="round" opacity="0.90"/>
<path d="M413.80 262.30Q418.25 262.30 422.70 262.30" fill="none" stroke="#0a0a0a" stroke-width="2.41" stroke-linecap="round" opacity="1.00"/>
<path d="M428.40 262.30Q432.75 262.30 437.10 262.30" fill="none" stroke="#0a0a0a" stroke-width="2.60" stroke-linecap="round" opacity="1.00"/>
<path d="M442.90 262.30Q447.25 262.30 451.60 262.30" fill="none" stroke="#0a0a0a" stroke-width="2.60" stroke-linecap="round" opacity="1.00"/>
<path d="M457.38 262.30Q461.75 262.30 466.12 262.30" fill="none" stroke="#0a0a0a" stroke-width="2.56" stroke-linecap="round" opacity="1.00"/>
<path d="M471.90 262.30Q476.25 262.30 480.60 262.30" fill="none" stroke="#0a0a0a" stroke-width="2.60" stroke-linecap="round" opacity="1.00"/>
</g></g>
<rect x="309.50" y="253.60" width="174.10" height="15.40" fill="none" stroke="#141414" stroke-width="1.2"/>
<rect x="132.00" y="273.20" width="174.50" height="15.40" fill="#dedede"/>
<clipPath id="c347"><rect x="132.00" y="273.20" width="174.50" height="15.40"/></clipPath>
<g clip-path="url(#c347)"><g filter="url(#b40)">
<path d="M135.95 281.00Q140.80 281.80 145.65 281.00" fill="none" stroke="#0a0a0a" stroke-width="3.90" stroke-linecap="round" opacity="1.00"/>
<path d="M150.45 281.00Q155.30 281.80 160.15 281.00" fill="none" stroke="#0a0a0a" stroke-width="3.90" stroke-linecap="round" opacity="1.00"/>
<path d="M164.95 281.00Q169.80 281.80 174.65 281.00" fill="none" stroke="#0a0a0a" stroke-width="3.90" stroke-linecap="round" opacity="1.00"/>
<path d="M179.45 281.00Q184.30 281.80 189.15 281.00" fill="none" stroke="#0a0a0a" stroke-width="3.90" stroke-linecap="round" opacity="1.00"/>
<path d="M193.95 281.00Q198.80 281.80 203.65 281.00" fill="none" stroke="#0a0a0a" stroke-width="3.90" stroke-linecap="round" opacity="1.00"/>
<path d="M208.45 281.00Q213.30 281.80 218.15 281.00" fill="none" stroke="#0a0a0a" stroke-width="3.90" stroke-linecap="round" opacity="1.00"/>
<path d="M222.95 281.00Q227.80 281.80 232.65 281.00" fill="none" stroke="#0a0a0a" stroke-width="3.90" stroke-linecap="round" opacity="1.00"/>
<path d="M237.45 281.00Q242.30 281.80 247.15 281.00" fill="none" stroke="#0a0a0a" stroke-width="3.90" stroke-linecap="round" opacity="1.00"/>
<path d="M251.95 281.00Q256.80 281.80 261.65 281.00" fill="none" stroke="#0a0a0a" stroke-width="3.90" stroke-linecap="round" opacity="1.00"/>
<path d="M266.45 281.00Q271.30 281.80 276.15 281.00" fill="none" stroke="#0a0a0a" stroke-width="3.90" stroke-linecap="round" opacity="1.00"/>
<path d="M280.95 281.00Q285.80 281.80 290.65 281.00" fill="none" stroke="#0a0a0a" stroke-width="3.90" stroke-linecap="round" opacity="1.00"/>
<path d="M295.45 281.00Q300.30 281.80 305.15 281.00" fill="none" stroke="#0a0a0a" stroke-width="3.90" stroke-linecap="round" opacity="1.00"/>
</g></g>
<rect x="132.00" y="273.20" width="174.50" height="15.40" fill="none" stroke="#141414" stroke-width="1.2"/>
<rect x="309.50" y="273.20" width="174.10" height="15.40" fill="#dedede"/>
<clipPath id="c364"><rect x="309.50" y="273.20" width="174.10" height="15.40"/></clipPath>
<g clip-path="url(#c364)"><g filter="url(#b40)">
<path d="M311.90 281.00Q316.75 281.80 321.60 281.00" fill="none" stroke="#0a0a0a" stroke-width="3.90" stroke-linecap="round" opacity="1.00"/>
<path d="M326.40 281.00Q331.25 281.80 336.10 281.00" fill="none" stroke="#0a0a0a" stroke-width="3.90" stroke-linecap="round" opacity="1.00"/>
<path d="M340.90 281.00Q345.75 281.80 350.60 281.00" fill="none" stroke="#0a0a0a" stroke-width="3.90" stroke-linecap="round" opacity="1.00"/>
<path d="M355.40 281.00Q360.25 281.80 365.10 281.00" fill="none" stroke="#0a0a0a" stroke-width="3.90" stroke-linecap="round" opacity="1.00"/>
<path d="M369.90 281.00Q374.75 281.80 379.60 281.00" fill="none" stroke="#0a0a0a" stroke-width="3.90" stroke-linecap="round" opacity="1.00"/>
<path d="M384.40 281.00Q389.25 281.80 394.10 281.00" fill="none" stroke="#0a0a0a" stroke-width="3.90" stroke-linecap="round" opacity="1.00"/>
<path d="M398.90 281.00Q403.75 281.80 408.60 281.00" fill="none" stroke="#0a0a0a" stroke-width="3.90" stroke-linecap="round" opacity="1.00"/>
<path d="M413.40 281.00Q418.25 281.80 423.10 281.00" fill="none" stroke="#0a0a0a" stroke-width="3.90" stroke-linecap="round" opacity="1.00"/>
<path d="M427.90 281.00Q432.75 281.80 437.60 281.00" fill="none" stroke="#0a0a0a" stroke-width="3.90" stroke-linecap="round" opacity="1.00"/>
<path d="M442.40 281.00Q447.25 281.80 452.10 281.00" fill="none" stroke="#0a0a0a" stroke-width="3.90" stroke-linecap="round" opacity="1.00"/>
<path d="M456.90 281.00Q461.75 281.80 466.60 281.00" fill="none" stroke="#0a0a0a" stroke-width="3.90" stroke-linecap="round" opacity="1.00"/>
<path d="M471.40 281.00Q476.25 281.80 481.10 281.00" fill="none" stroke="#0a0a0a" stroke-width="3.90" stroke-linecap="round" opacity="1.00"/>
</g></g>
<rect x="309.50" y="273.20" width="174.10" height="15.40" fill="none" stroke="#141414" stroke-width="1.2"/>
<text x="488.30" y="226.50" font-size="12">UHRF1</text>
<text x="488.30" y="246.00" font-size="12">DNMT1</text>
<text x="488.30" y="266.00" font-size="12">DNMT3A</text>
<text x="488.30" y="284.40" font-size="12">β-actin</text>
<line x1="40.50" y1="324.20" x2="40.50" y2="424.20" stroke="#262626" stroke-width="1"/>
<line x1="40.00" y1="423.70" x2="257.60" y2="423.70" stroke="#262626" stroke-width="1"/>
<line x1="36.90" y1="423.70" x2="40.50" y2="423.70" stroke="#262626" stroke-width="1"/>
<text x="30.60" y="427.80" font-size="11.5" text-anchor="end">0</text>
<line x1="36.90" y1="390.60" x2="40.50" y2="390.60" stroke="#262626" stroke-width="1"/>
<text x="30.60" y="394.70" font-size="11.5" text-anchor="end">0.5</text>
<line x1="36.90" y1="357.50" x2="40.50" y2="357.50" stroke="#262626" stroke-width="1"/>
<text x="30.60" y="361.60" font-size="11.5" text-anchor="end">1</text>
<line x1="36.90" y1="324.40" x2="40.50" y2="324.40" stroke="#262626" stroke-width="1"/>
<text x="30.60" y="328.50" font-size="11.5" text-anchor="end">1.5</text>
<line x1="40.50" y1="423.70" x2="40.50" y2="427.30" stroke="#262626" stroke-width="1"/>
<line x1="94.70" y1="423.70" x2="94.70" y2="427.30" stroke="#262626" stroke-width="1"/>
<line x1="148.90" y1="423.70" x2="148.90" y2="427.30" stroke="#262626" stroke-width="1"/>
<line x1="203.10" y1="423.70" x2="203.10" y2="427.30" stroke="#262626" stroke-width="1"/>
<line x1="257.30" y1="423.70" x2="257.30" y2="427.30" stroke="#262626" stroke-width="1"/>
<text x="10.30" y="378.60" font-size="12.3" text-anchor="middle" transform="rotate(-90 10.30 378.60)">mRNA level (fold)</text>
<text x="0.20" y="313.30" font-size="18.5">(e)</text>
<text x="141.20" y="325.00" font-size="12" text-anchor="middle">UHRF1</text>
<rect x="44.50" y="357.50" width="7.72" height="66.20" fill="#5B9BD5" stroke="#1f1f1f" stroke-width="0.75"/>
<rect x="52.22" y="358.49" width="7.72" height="65.21" fill="#ED7D31" stroke="#1f1f1f" stroke-width="0.75"/>
<rect x="59.94" y="366.97" width="7.72" height="56.73" fill="#A5A5A5" stroke="#1f1f1f" stroke-width="0.75"/>
<rect x="67.66" y="362.13" width="7.72" height="61.57" fill="#FFC000" stroke="#1f1f1f" stroke-width="0.75"/>
<rect x="75.38" y="365.18" width="7.72" height="58.52" fill="#4472C4" stroke="#1f1f1f" stroke-width="0.75"/>
<rect x="83.10" y="370.74" width="7.72" height="52.96" fill="#70AD47" stroke="#1f1f1f" stroke-width="0.75"/>
<line x1="48.36" y1="354.20" x2="48.36" y2="360.80" stroke="#0c0c0c" stroke-width="0.9"/>
<line x1="46.46" y1="354.20" x2="50.26" y2="354.20" stroke="#0c0c0c" stroke-width="0.9"/>
<line x1="46.46" y1="360.80" x2="50.26" y2="360.80" stroke="#0c0c0c" stroke-width="0.9"/>
<line x1="56.08" y1="357.89" x2="56.08" y2="359.09" stroke="#0c0c0c" stroke-width="0.9"/>
<line x1="54.18" y1="357.89" x2="57.98" y2="357.89" stroke="#0c0c0c" stroke-width="0.9"/>
<line x1="54.18" y1="359.09" x2="57.98" y2="359.09" stroke="#0c0c0c" stroke-width="0.9"/>
<line x1="63.80" y1="365.77" x2="63.80" y2="368.17" stroke="#0c0c0c" stroke-width="0.9"/>
<line x1="61.90" y1="365.77" x2="65.70" y2="365.77" stroke="#0c0c0c" stroke-width="0.9"/>
<line x1="61.90" y1="368.17" x2="65.70" y2="368.17" stroke="#0c0c0c" stroke-width="0.9"/>
<line x1="71.52" y1="359.53" x2="71.52" y2="364.73" stroke="#0c0c0c" stroke-width="0.9"/>
<line x1="69.62" y1="359.53" x2="73.42" y2="359.53" stroke="#0c0c0c" stroke-width="0.9"/>
<line x1="69.62" y1="364.73" x2="73.42" y2="364.73" stroke="#0c0c0c" stroke-width="0.9"/>
<line x1="79.24" y1="359.18" x2="79.24" y2="371.18" stroke="#0c0c0c" stroke-width="0.9"/>
<line x1="77.34" y1="359.18" x2="81.14" y2="359.18" stroke="#0c0c0c" stroke-width="0.9"/>
<line x1="77.34" y1="371.18" x2="81.14" y2="371.18" stroke="#0c0c0c" stroke-width="0.9"/>
<line x1="86.96" y1="370.44" x2="86.96" y2="371.04" stroke="#0c0c0c" stroke-width="0.9"/>
<line x1="85.06" y1="370.44" x2="88.86" y2="370.44" stroke="#0c0c0c" stroke-width="0.9"/>
<line x1="85.06" y1="371.04" x2="88.86" y2="371.04" stroke="#0c0c0c" stroke-width="0.9"/>
<rect x="98.70" y="357.50" width="7.72" height="66.20" fill="#5B9BD5" stroke="#1f1f1f" stroke-width="0.75"/>
<rect x="106.42" y="373.19" width="7.72" height="50.51" fill="#ED7D31" stroke="#1f1f1f" stroke-width="0.75"/>
<rect x="114.14" y="399.87" width="7.72" height="23.83" fill="#A5A5A5" stroke="#1f1f1f" stroke-width="0.75"/>
<rect x="121.86" y="409.80" width="7.72" height="13.90" fill="#FFC000" stroke="#1f1f1f" stroke-width="0.75"/>
<rect x="129.58" y="409.00" width="7.72" height="14.70" fill="#4472C4" stroke="#1f1f1f" stroke-width="0.75"/>
<rect x="137.30" y="412.64" width="7.72" height="11.06" fill="#70AD47" stroke="#1f1f1f" stroke-width="0.75"/>
<line x1="102.56" y1="354.20" x2="102.56" y2="360.80" stroke="#0c0c0c" stroke-width="0.9"/>
<line x1="100.66" y1="354.20" x2="104.46" y2="354.20" stroke="#0c0c0c" stroke-width="0.9"/>
<line x1="100.66" y1="360.80" x2="104.46" y2="360.80" stroke="#0c0c0c" stroke-width="0.9"/>
<line x1="110.28" y1="372.89" x2="110.28" y2="373.49" stroke="#0c0c0c" stroke-width="0.9"/>
<line x1="108.38" y1="372.89" x2="112.18" y2="372.89" stroke="#0c0c0c" stroke-width="0.9"/>
<line x1="108.38" y1="373.49" x2="112.18" y2="373.49" stroke="#0c0c0c" stroke-width="0.9"/>
<line x1="118.00" y1="398.07" x2="118.00" y2="401.67" stroke="#0c0c0c" stroke-width="0.9"/>
<line x1="116.10" y1="398.07" x2="119.90" y2="398.07" stroke="#0c0c0c" stroke-width="0.9"/>
<line x1="116.10" y1="401.67" x2="119.90" y2="401.67" stroke="#0c0c0c" stroke-width="0.9"/>
<line x1="125.72" y1="407.80" x2="125.72" y2="411.80" stroke="#0c0c0c" stroke-width="0.9"/>
<line x1="123.82" y1="407.80" x2="127.62" y2="407.80" stroke="#0c0c0c" stroke-width="0.9"/>
<line x1="123.82" y1="411.80" x2="127.62" y2="411.80" stroke="#0c0c0c" stroke-width="0.9"/>
<line x1="133.44" y1="408.70" x2="133.44" y2="409.30" stroke="#0c0c0c" stroke-width="0.9"/>
<line x1="131.54" y1="408.70" x2="135.34" y2="408.70" stroke="#0c0c0c" stroke-width="0.9"/>
<line x1="131.54" y1="409.30" x2="135.34" y2="409.30" stroke="#0c0c0c" stroke-width="0.9"/>
<line x1="141.16" y1="412.34" x2="141.16" y2="412.94" stroke="#0c0c0c" stroke-width="0.9"/>
<line x1="139.26" y1="412.34" x2="143.06" y2="412.34" stroke="#0c0c0c" stroke-width="0.9"/>
<line x1="139.26" y1="412.94" x2="143.06" y2="412.94" stroke="#0c0c0c" stroke-width="0.9"/>
<rect x="152.90" y="357.50" width="7.72" height="66.20" fill="#5B9BD5" stroke="#1f1f1f" stroke-width="0.75"/>
<rect x="160.62" y="372.86" width="7.72" height="50.84" fill="#ED7D31" stroke="#1f1f1f" stroke-width="0.75"/>
<rect x="168.34" y="380.01" width="7.72" height="43.69" fill="#A5A5A5" stroke="#1f1f1f" stroke-width="0.75"/>
<rect x="176.06" y="380.54" width="7.72" height="43.16" fill="#FFC000" stroke="#1f1f1f" stroke-width="0.75"/>
<rect x="183.78" y="390.60" width="7.72" height="33.10" fill="#4472C4" stroke="#1f1f1f" stroke-width="0.75"/>
<rect x="191.50" y="381.53" width="7.72" height="42.17" fill="#70AD47" stroke="#1f1f1f" stroke-width="0.75"/>
<line x1="156.76" y1="354.20" x2="156.76" y2="360.80" stroke="#0c0c0c" stroke-width="0.9"/>
<line x1="154.86" y1="354.20" x2="158.66" y2="354.20" stroke="#0c0c0c" stroke-width="0.9"/>
<line x1="154.86" y1="360.80" x2="158.66" y2="360.80" stroke="#0c0c0c" stroke-width="0.9"/>
<line x1="164.48" y1="369.86" x2="164.48" y2="375.86" stroke="#0c0c0c" stroke-width="0.9"/>
<line x1="162.58" y1="369.86" x2="166.38" y2="369.86" stroke="#0c0c0c" stroke-width="0.9"/>
<line x1="162.58" y1="375.86" x2="166.38" y2="375.86" stroke="#0c0c0c" stroke-width="0.9"/>
<line x1="172.20" y1="378.51" x2="172.20" y2="381.51" stroke="#0c0c0c" stroke-width="0.9"/>
<line x1="170.30" y1="378.51" x2="174.10" y2="378.51" stroke="#0c0c0c" stroke-width="0.9"/>
<line x1="170.30" y1="381.51" x2="174.10" y2="381.51" stroke="#0c0c0c" stroke-width="0.9"/>
<line x1="179.92" y1="379.04" x2="179.92" y2="382.04" stroke="#0c0c0c" stroke-width="0.9"/>
<line x1="178.02" y1="379.04" x2="181.82" y2="379.04" stroke="#0c0c0c" stroke-width="0.9"/>
<line x1="178.02" y1="382.04" x2="181.82" y2="382.04" stroke="#0c0c0c" stroke-width="0.9"/>
<line x1="187.64" y1="390.00" x2="187.64" y2="391.20" stroke="#0c0c0c" stroke-width="0.9"/>
<line x1="185.74" y1="390.00" x2="189.54" y2="390.00" stroke="#0c0c0c" stroke-width="0.9"/>
<line x1="185.74" y1="391.20" x2="189.54" y2="391.20" stroke="#0c0c0c" stroke-width="0.9"/>
<line x1="195.36" y1="378.53" x2="195.36" y2="384.53" stroke="#0c0c0c" stroke-width="0.9"/>
<line x1="193.46" y1="378.53" x2="197.26" y2="378.53" stroke="#0c0c0c" stroke-width="0.9"/>
<line x1="193.46" y1="384.53" x2="197.26" y2="384.53" stroke="#0c0c0c" stroke-width="0.9"/>
<rect x="207.10" y="357.50" width="7.72" height="66.20" fill="#5B9BD5" stroke="#1f1f1f" stroke-width="0.75"/>
<rect x="214.82" y="368.75" width="7.72" height="54.95" fill="#ED7D31" stroke="#1f1f1f" stroke-width="0.75"/>
<rect x="222.54" y="395.90" width="7.72" height="27.80" fill="#A5A5A5" stroke="#1f1f1f" stroke-width="0.75"/>
<rect x="230.26" y="409.93" width="7.72" height="13.77" fill="#FFC000" stroke="#1f1f1f" stroke-width="0.75"/>
<rect x="237.98" y="411.78" width="7.72" height="11.92" fill="#4472C4" stroke="#1f1f1f" stroke-width="0.75"/>
<rect x="245.70" y="404.97" width="7.72" height="18.73" fill="#70AD47" stroke="#1f1f1f" stroke-width="0.75"/>
<line x1="210.96" y1="354.20" x2="210.96" y2="360.80" stroke="#0c0c0c" stroke-width="0.9"/>
<line x1="209.06" y1="354.20" x2="212.86" y2="354.20" stroke="#0c0c0c" stroke-width="0.9"/>
<line x1="209.06" y1="360.80" x2="212.86" y2="360.80" stroke="#0c0c0c" stroke-width="0.9"/>
<line x1="218.68" y1="365.75" x2="218.68" y2="371.75" stroke="#0c0c0c" stroke-width="0.9"/>
<line x1="216.78" y1="365.75" x2="220.58" y2="365.75" stroke="#0c0c0c" stroke-width="0.9"/>
<line x1="216.78" y1="371.75" x2="220.58" y2="371.75" stroke="#0c0c0c" stroke-width="0.9"/>
<line x1="226.40" y1="395.60" x2="226.40" y2="396.20" stroke="#0c0c0c" stroke-width="0.9"/>
<line x1="224.50" y1="395.60" x2="228.30" y2="395.60" stroke="#0c0c0c" stroke-width="0.9"/>
<line x1="224.50" y1="396.20" x2="228.30" y2="396.20" stroke="#0c0c0c" stroke-width="0.9"/>
<line x1="234.12" y1="409.33" x2="234.12" y2="410.53" stroke="#0c0c0c" stroke-width="0.9"/>
<line x1="232.22" y1="409.33" x2="236.02" y2="409.33" stroke="#0c0c0c" stroke-width="0.9"/>
<line x1="232.22" y1="410.53" x2="236.02" y2="410.53" stroke="#0c0c0c" stroke-width="0.9"/>
<line x1="241.84" y1="411.08" x2="241.84" y2="412.48" stroke="#0c0c0c" stroke-width="0.9"/>
<line x1="239.94" y1="411.08" x2="243.74" y2="411.08" stroke="#0c0c0c" stroke-width="0.9"/>
<line x1="239.94" y1="412.48" x2="243.74" y2="412.48" stroke="#0c0c0c" stroke-width="0.9"/>
<line x1="249.56" y1="404.37" x2="249.56" y2="405.57" stroke="#0c0c0c" stroke-width="0.9"/>
<line x1="247.66" y1="404.37" x2="251.46" y2="404.37" stroke="#0c0c0c" stroke-width="0.9"/>
<line x1="247.66" y1="405.57" x2="251.46" y2="405.57" stroke="#0c0c0c" stroke-width="0.9"/>
<text x="69.10" y="440.50" font-size="12" text-anchor="end" transform="rotate(-30 69.10 440.50)">ctr</text>
<text x="123.30" y="440.50" font-size="12" text-anchor="end" transform="rotate(-30 123.30 440.50)">2i</text>
<text x="177.50" y="440.50" font-size="12" text-anchor="end" transform="rotate(-30 177.50 440.50)">CHIR99021</text>
<text x="231.70" y="440.50" font-size="12" text-anchor="end" transform="rotate(-30 231.70 440.50)">PD0325901</text>
<rect x="60.60" y="335.60" width="7.70" height="7.00" fill="#5B9BD5" stroke="#151515" stroke-width="0.95"/>
<text x="70.90" y="342.80" font-size="10.1">0h</text>
<rect x="88.30" y="335.60" width="7.70" height="7.00" fill="#ED7D31" stroke="#151515" stroke-width="0.95"/>
<text x="98.00" y="342.80" font-size="10.1">6h</text>
<rect x="114.90" y="335.60" width="7.70" height="7.00" fill="#A5A5A5" stroke="#151515" stroke-width="0.95"/>
<text x="125.20" y="342.80" font-size="10.1">12h</text>
<rect x="148.20" y="335.60" width="7.70" height="7.00" fill="#FFC000" stroke="#151515" stroke-width="0.95"/>
<text x="159.40" y="342.80" font-size="10.1">24h</text>
<rect x="182.00" y="335.60" width="7.70" height="7.00" fill="#4472C4" stroke="#151515" stroke-width="0.95"/>
<text x="193.00" y="342.80" font-size="10.1">36h</text>
<rect x="215.60" y="335.60" width="7.70" height="7.00" fill="#70AD47" stroke="#151515" stroke-width="0.95"/>
<text x="226.90" y="342.80" font-size="10.1">48h</text>
<line x1="318.20" y1="324.20" x2="318.20" y2="424.20" stroke="#262626" stroke-width="1"/>
<line x1="317.70" y1="423.70" x2="535.30" y2="423.70" stroke="#262626" stroke-width="1"/>
<line x1="314.60" y1="423.70" x2="318.20" y2="423.70" stroke="#262626" stroke-width="1"/>
<text x="308.30" y="427.80" font-size="11.5" text-anchor="end">0</text>
<line x1="314.60" y1="390.60" x2="318.20" y2="390.60" stroke="#262626" stroke-width="1"/>
<text x="308.30" y="394.70" font-size="11.5" text-anchor="end">0.5</text>
<line x1="314.60" y1="357.50" x2="318.20" y2="357.50" stroke="#262626" stroke-width="1"/>
<text x="308.30" y="361.60" font-size="11.5" text-anchor="end">1</text>
<line x1="314.60" y1="324.40" x2="318.20" y2="324.40" stroke="#262626" stroke-width="1"/>
<text x="308.30" y="328.50" font-size="11.5" text-anchor="end">1.5</text>
<line x1="318.20" y1="423.70" x2="318.20" y2="427.30" stroke="#262626" stroke-width="1"/>
<line x1="372.40" y1="423.70" x2="372.40" y2="427.30" stroke="#262626" stroke-width="1"/>
<line x1="426.60" y1="423.70" x2="426.60" y2="427.30" stroke="#262626" stroke-width="1"/>
<line x1="480.80" y1="423.70" x2="480.80" y2="427.30" stroke="#262626" stroke-width="1"/>
<line x1="535.00" y1="423.70" x2="535.00" y2="427.30" stroke="#262626" stroke-width="1"/>
<text x="288.00" y="378.60" font-size="12.3" text-anchor="middle" transform="rotate(-90 288.00 378.60)">mRNA level (fold)</text>
<text x="278.00" y="312.80" font-size="18.5">(f)</text>
<text x="418.80" y="320.40" font-size="12" text-anchor="middle">DNMT1</text>
<rect x="322.20" y="357.50" width="7.72" height="66.20" fill="#5B9BD5" stroke="#1f1f1f" stroke-width="0.75"/>
<rect x="329.92" y="349.56" width="7.72" height="74.14" fill="#ED7D31" stroke="#1f1f1f" stroke-width="0.75"/>
<rect x="337.64" y="368.42" width="7.72" height="55.28" fill="#A5A5A5" stroke="#1f1f1f" stroke-width="0.75"/>
<rect x="345.36" y="361.47" width="7.72" height="62.23" fill="#FFC000" stroke="#1f1f1f" stroke-width="0.75"/>
<rect x="353.08" y="354.59" width="7.72" height="69.11" fill="#4472C4" stroke="#1f1f1f" stroke-width="0.75"/>
<rect x="360.80" y="357.50" width="7.72" height="66.20" fill="#70AD47" stroke="#1f1f1f" stroke-width="0.75"/>
<line x1="326.06" y1="352.20" x2="326.06" y2="362.80" stroke="#0c0c0c" stroke-width="0.9"/>
<line x1="324.16" y1="352.20" x2="327.96" y2="352.20" stroke="#0c0c0c" stroke-width="0.9"/>
<line x1="324.16" y1="362.80" x2="327.96" y2="362.80" stroke="#0c0c0c" stroke-width="0.9"/>
<line x1="333.78" y1="341.86" x2="333.78" y2="357.26" stroke="#0c0c0c" stroke-width="0.9"/>
<line x1="331.88" y1="341.86" x2="335.68" y2="341.86" stroke="#0c0c0c" stroke-width="0.9"/>
<line x1="331.88" y1="357.26" x2="335.68" y2="357.26" stroke="#0c0c0c" stroke-width="0.9"/>
<line x1="341.50" y1="368.12" x2="341.50" y2="368.72" stroke="#0c0c0c" stroke-width="0.9"/>
<line x1="339.60" y1="368.12" x2="343.40" y2="368.12" stroke="#0c0c0c" stroke-width="0.9"/>
<line x1="339.60" y1="368.72" x2="343.40" y2="368.72" stroke="#0c0c0c" stroke-width="0.9"/>
<line x1="349.22" y1="360.47" x2="349.22" y2="362.47" stroke="#0c0c0c" stroke-width="0.9"/>
<line x1="347.32" y1="360.47" x2="351.12" y2="360.47" stroke="#0c0c0c" stroke-width="0.9"/>
<line x1="347.32" y1="362.47" x2="351.12" y2="362.47" stroke="#0c0c0c" stroke-width="0.9"/>
<line x1="356.94" y1="347.09" x2="356.94" y2="362.09" stroke="#0c0c0c" stroke-width="0.9"/>
<line x1="355.04" y1="347.09" x2="358.84" y2="347.09" stroke="#0c0c0c" stroke-width="0.9"/>
<line x1="355.04" y1="362.09" x2="358.84" y2="362.09" stroke="#0c0c0c" stroke-width="0.9"/>
<line x1="364.66" y1="356.50" x2="364.66" y2="358.50" stroke="#0c0c0c" stroke-width="0.9"/>
<line x1="362.76" y1="356.50" x2="366.56" y2="356.50" stroke="#0c0c0c" stroke-width="0.9"/>
<line x1="362.76" y1="358.50" x2="366.56" y2="358.50" stroke="#0c0c0c" stroke-width="0.9"/>
<rect x="376.40" y="357.50" width="7.72" height="66.20" fill="#5B9BD5" stroke="#1f1f1f" stroke-width="0.75"/>
<rect x="384.12" y="360.15" width="7.72" height="63.55" fill="#ED7D31" stroke="#1f1f1f" stroke-width="0.75"/>
<rect x="391.84" y="374.18" width="7.72" height="49.52" fill="#A5A5A5" stroke="#1f1f1f" stroke-width="0.75"/>
<rect x="399.56" y="390.93" width="7.72" height="32.77" fill="#FFC000" stroke="#1f1f1f" stroke-width="0.75"/>
<rect x="407.28" y="396.56" width="7.72" height="27.14" fill="#4472C4" stroke="#1f1f1f" stroke-width="0.75"/>
<rect x="415.00" y="398.21" width="7.72" height="25.49" fill="#70AD47" stroke="#1f1f1f" stroke-width="0.75"/>
<line x1="380.26" y1="352.20" x2="380.26" y2="362.80" stroke="#0c0c0c" stroke-width="0.9"/>
<line x1="378.36" y1="352.20" x2="382.16" y2="352.20" stroke="#0c0c0c" stroke-width="0.9"/>
<line x1="378.36" y1="362.80" x2="382.16" y2="362.80" stroke="#0c0c0c" stroke-width="0.9"/>
<line x1="387.98" y1="357.75" x2="387.98" y2="362.55" stroke="#0c0c0c" stroke-width="0.9"/>
<line x1="386.08" y1="357.75" x2="389.88" y2="357.75" stroke="#0c0c0c" stroke-width="0.9"/>
<line x1="386.08" y1="362.55" x2="389.88" y2="362.55" stroke="#0c0c0c" stroke-width="0.9"/>
<line x1="395.70" y1="372.88" x2="395.70" y2="375.48" stroke="#0c0c0c" stroke-width="0.9"/>
<line x1="393.80" y1="372.88" x2="397.60" y2="372.88" stroke="#0c0c0c" stroke-width="0.9"/>
<line x1="393.80" y1="375.48" x2="397.60" y2="375.48" stroke="#0c0c0c" stroke-width="0.9"/>
<line x1="403.42" y1="386.23" x2="403.42" y2="395.63" stroke="#0c0c0c" stroke-width="0.9"/>
<line x1="401.52" y1="386.23" x2="405.32" y2="386.23" stroke="#0c0c0c" stroke-width="0.9"/>
<line x1="401.52" y1="395.63" x2="405.32" y2="395.63" stroke="#0c0c0c" stroke-width="0.9"/>
<line x1="411.14" y1="394.56" x2="411.14" y2="398.56" stroke="#0c0c0c" stroke-width="0.9"/>
<line x1="409.24" y1="394.56" x2="413.04" y2="394.56" stroke="#0c0c0c" stroke-width="0.9"/>
<line x1="409.24" y1="398.56" x2="413.04" y2="398.56" stroke="#0c0c0c" stroke-width="0.9"/>
<line x1="418.86" y1="397.61" x2="418.86" y2="398.81" stroke="#0c0c0c" stroke-width="0.9"/>
<line x1="416.96" y1="397.61" x2="420.76" y2="397.61" stroke="#0c0c0c" stroke-width="0.9"/>
<line x1="416.96" y1="398.81" x2="420.76" y2="398.81" stroke="#0c0c0c" stroke-width="0.9"/>
<rect x="430.60" y="357.50" width="7.72" height="66.20" fill="#5B9BD5" stroke="#1f1f1f" stroke-width="0.75"/>
<rect x="438.32" y="358.16" width="7.72" height="65.54" fill="#ED7D31" stroke="#1f1f1f" stroke-width="0.75"/>
<rect x="446.04" y="368.09" width="7.72" height="55.61" fill="#A5A5A5" stroke="#1f1f1f" stroke-width="0.75"/>
<rect x="453.76" y="354.85" width="7.72" height="68.85" fill="#FFC000" stroke="#1f1f1f" stroke-width="0.75"/>
<rect x="461.48" y="347.57" width="7.72" height="76.13" fill="#4472C4" stroke="#1f1f1f" stroke-width="0.75"/>
<rect x="469.20" y="369.88" width="7.72" height="53.82" fill="#70AD47" stroke="#1f1f1f" stroke-width="0.75"/>
<line x1="434.46" y1="352.20" x2="434.46" y2="362.80" stroke="#0c0c0c" stroke-width="0.9"/>
<line x1="432.56" y1="352.20" x2="436.36" y2="352.20" stroke="#0c0c0c" stroke-width="0.9"/>
<line x1="432.56" y1="362.80" x2="436.36" y2="362.80" stroke="#0c0c0c" stroke-width="0.9"/>
<line x1="442.18" y1="352.16" x2="442.18" y2="364.16" stroke="#0c0c0c" stroke-width="0.9"/>
<line x1="440.28" y1="352.16" x2="444.08" y2="352.16" stroke="#0c0c0c" stroke-width="0.9"/>
<line x1="440.28" y1="364.16" x2="444.08" y2="364.16" stroke="#0c0c0c" stroke-width="0.9"/>
<line x1="449.90" y1="366.59" x2="449.90" y2="369.59" stroke="#0c0c0c" stroke-width="0.9"/>
<line x1="448.00" y1="366.59" x2="451.80" y2="366.59" stroke="#0c0c0c" stroke-width="0.9"/>
<line x1="448.00" y1="369.59" x2="451.80" y2="369.59" stroke="#0c0c0c" stroke-width="0.9"/>
<line x1="457.62" y1="352.55" x2="457.62" y2="357.15" stroke="#0c0c0c" stroke-width="0.9"/>
<line x1="455.72" y1="352.55" x2="459.52" y2="352.55" stroke="#0c0c0c" stroke-width="0.9"/>
<line x1="455.72" y1="357.15" x2="459.52" y2="357.15" stroke="#0c0c0c" stroke-width="0.9"/>
<line x1="465.34" y1="347.27" x2="465.34" y2="347.87" stroke="#0c0c0c" stroke-width="0.9"/>
<line x1="463.44" y1="347.27" x2="467.24" y2="347.27" stroke="#0c0c0c" stroke-width="0.9"/>
<line x1="463.44" y1="347.87" x2="467.24" y2="347.87" stroke="#0c0c0c" stroke-width="0.9"/>
<line x1="473.06" y1="367.18" x2="473.06" y2="372.58" stroke="#0c0c0c" stroke-width="0.9"/>
<line x1="471.16" y1="367.18" x2="474.96" y2="367.18" stroke="#0c0c0c" stroke-width="0.9"/>
<line x1="471.16" y1="372.58" x2="474.96" y2="372.58" stroke="#0c0c0c" stroke-width="0.9"/>
<rect x="484.80" y="357.50" width="7.72" height="66.20" fill="#5B9BD5" stroke="#1f1f1f" stroke-width="0.75"/>
<rect x="492.52" y="351.54" width="7.72" height="72.16" fill="#ED7D31" stroke="#1f1f1f" stroke-width="0.75"/>
<rect x="500.24" y="378.88" width="7.72" height="44.82" fill="#A5A5A5" stroke="#1f1f1f" stroke-width="0.75"/>
<rect x="507.96" y="398.94" width="7.72" height="24.76" fill="#FFC000" stroke="#1f1f1f" stroke-width="0.75"/>
<rect x="515.68" y="401.66" width="7.72" height="22.04" fill="#4472C4" stroke="#1f1f1f" stroke-width="0.75"/>
<rect x="523.40" y="394.90" width="7.72" height="28.80" fill="#70AD47" stroke="#1f1f1f" stroke-width="0.75"/>
<line x1="488.66" y1="352.20" x2="488.66" y2="362.80" stroke="#0c0c0c" stroke-width="0.9"/>
<line x1="486.76" y1="352.20" x2="490.56" y2="352.20" stroke="#0c0c0c" stroke-width="0.9"/>
<line x1="486.76" y1="362.80" x2="490.56" y2="362.80" stroke="#0c0c0c" stroke-width="0.9"/>
<line x1="496.38" y1="351.24" x2="496.38" y2="351.84" stroke="#0c0c0c" stroke-width="0.9"/>
<line x1="494.48" y1="351.24" x2="498.28" y2="351.24" stroke="#0c0c0c" stroke-width="0.9"/>
<line x1="494.48" y1="351.84" x2="498.28" y2="351.84" stroke="#0c0c0c" stroke-width="0.9"/>
<line x1="504.10" y1="374.88" x2="504.10" y2="382.88" stroke="#0c0c0c" stroke-width="0.9"/>
<line x1="502.20" y1="374.88" x2="506.00" y2="374.88" stroke="#0c0c0c" stroke-width="0.9"/>
<line x1="502.20" y1="382.88" x2="506.00" y2="382.88" stroke="#0c0c0c" stroke-width="0.9"/>
<line x1="511.82" y1="398.64" x2="511.82" y2="399.24" stroke="#0c0c0c" stroke-width="0.9"/>
<line x1="509.92" y1="398.64" x2="513.72" y2="398.64" stroke="#0c0c0c" stroke-width="0.9"/>
<line x1="509.92" y1="399.24" x2="513.72" y2="399.24" stroke="#0c0c0c" stroke-width="0.9"/>
<line x1="519.54" y1="401.36" x2="519.54" y2="401.96" stroke="#0c0c0c" stroke-width="0.9"/>
<line x1="517.64" y1="401.36" x2="521.44" y2="401.36" stroke="#0c0c0c" stroke-width="0.9"/>
<line x1="517.64" y1="401.96" x2="521.44" y2="401.96" stroke="#0c0c0c" stroke-width="0.9"/>
<line x1="527.26" y1="394.10" x2="527.26" y2="395.70" stroke="#0c0c0c" stroke-width="0.9"/>
<line x1="525.36" y1="394.10" x2="529.16" y2="394.10" stroke="#0c0c0c" stroke-width="0.9"/>
<line x1="525.36" y1="395.70" x2="529.16" y2="395.70" stroke="#0c0c0c" stroke-width="0.9"/>
<text x="346.80" y="440.50" font-size="12" text-anchor="end" transform="rotate(-30 346.80 440.50)">ctr</text>
<text x="401.00" y="440.50" font-size="12" text-anchor="end" transform="rotate(-30 401.00 440.50)">2i</text>
<text x="455.20" y="440.50" font-size="12" text-anchor="end" transform="rotate(-30 455.20 440.50)">CHIR99021</text>
<text x="509.40" y="440.50" font-size="12" text-anchor="end" transform="rotate(-30 509.40 440.50)">PD0325901</text>
<rect x="338.70" y="335.60" width="7.70" height="7.00" fill="#5B9BD5" stroke="#151515" stroke-width="0.95"/>
<text x="348.50" y="342.80" font-size="10.1">0h</text>
<rect x="365.90" y="335.60" width="7.70" height="7.00" fill="#ED7D31" stroke="#151515" stroke-width="0.95"/>
<text x="375.60" y="342.80" font-size="10.1">6h</text>
<rect x="392.70" y="335.60" width="7.70" height="7.00" fill="#A5A5A5" stroke="#151515" stroke-width="0.95"/>
<text x="402.60" y="342.80" font-size="10.1">12h</text>
<rect x="426.00" y="335.60" width="7.70" height="7.00" fill="#FFC000" stroke="#151515" stroke-width="0.95"/>
<text x="437.20" y="342.80" font-size="10.1">24h</text>
<rect x="459.60" y="335.60" width="7.70" height="7.00" fill="#4472C4" stroke="#151515" stroke-width="0.95"/>
<text x="470.80" y="342.80" font-size="10.1">36h</text>
<rect x="493.80" y="335.60" width="7.70" height="7.00" fill="#70AD47" stroke="#151515" stroke-width="0.95"/>
<text x="504.50" y="342.80" font-size="10.1">48h</text>
<text x="0.20" y="502.00" font-size="18.5">(g)</text>
<line x1="14.60" y1="521.30" x2="40.00" y2="521.30" stroke="#222" stroke-width="1" stroke-dasharray="4.2 2.2"/>
<line x1="43.20" y1="521.30" x2="246.20" y2="521.30" stroke="#111" stroke-width="1.1"/>
<line x1="248.20" y1="521.30" x2="262.00" y2="521.30" stroke="#222" stroke-width="1" stroke-dasharray="4.2 2.6"/>
<line x1="103.50" y1="515.90" x2="103.50" y2="521.30" stroke="#222" stroke-width="1"/>
<line x1="204.60" y1="515.90" x2="204.60" y2="521.30" stroke="#222" stroke-width="1"/>
<path d="M154.10 521.30V512.40H175.30" fill="none" stroke="#111" stroke-width="1"/>
<path d="M175.00 509.80L180.30 512.40L175.00 515.00Z" fill="#111"/>
<path d="M207.90 521.30V512.40H229.40" fill="none" stroke="#111" stroke-width="1"/>
<path d="M229.10 509.80L234.40 512.40L229.10 515.00Z" fill="#111"/>
<text x="104.30" y="508.30" font-size="10" text-anchor="middle">-1kb</text>
<text x="153.00" y="495.20" font-size="10" text-anchor="middle">TSS-1</text>
<text x="212.90" y="495.20" font-size="10" text-anchor="middle">TSS-2</text>
<text x="204.60" y="508.50" font-size="10" text-anchor="middle">+1kb</text>
<text x="0.00" y="536.30" font-size="10.3"><tspan font-style="italic">UHRF1</tspan> (-295 bp, +1113 bp)</text>
<line x1="136.10" y1="533.20" x2="214.30" y2="533.20" stroke="#0a0a0a" stroke-width="2"/>
<line x1="47.20" y1="549.00" x2="47.20" y2="669.90" stroke="#262626" stroke-width="1"/>
<line x1="46.70" y1="669.40" x2="121.50" y2="669.40" stroke="#262626" stroke-width="1"/>
<line x1="43.80" y1="669.40" x2="47.20" y2="669.40" stroke="#262626" stroke-width="1"/>
<text x="38.20" y="673.00" font-size="10" text-anchor="end">0</text>
<line x1="43.80" y1="654.41" x2="47.20" y2="654.41" stroke="#262626" stroke-width="1"/>
<text x="38.20" y="658.01" font-size="10" text-anchor="end">1</text>
<line x1="43.80" y1="639.42" x2="47.20" y2="639.42" stroke="#262626" stroke-width="1"/>
<text x="38.20" y="643.02" font-size="10" text-anchor="end">2</text>
<line x1="43.80" y1="624.44" x2="47.20" y2="624.44" stroke="#262626" stroke-width="1"/>
<text x="38.20" y="628.04" font-size="10" text-anchor="end">3</text>
<line x1="43.80" y1="609.45" x2="47.20" y2="609.45" stroke="#262626" stroke-width="1"/>
<text x="38.20" y="613.05" font-size="10" text-anchor="end">4</text>
<line x1="43.80" y1="594.46" x2="47.20" y2="594.46" stroke="#262626" stroke-width="1"/>
<text x="38.20" y="598.06" font-size="10" text-anchor="end">5</text>
<line x1="43.80" y1="579.48" x2="47.20" y2="579.48" stroke="#262626" stroke-width="1"/>
<text x="38.20" y="583.08" font-size="10" text-anchor="end">6</text>
<line x1="43.80" y1="564.49" x2="47.20" y2="564.49" stroke="#262626" stroke-width="1"/>
<text x="38.20" y="568.09" font-size="10" text-anchor="end">7</text>
<line x1="43.80" y1="549.50" x2="47.20" y2="549.50" stroke="#262626" stroke-width="1"/>
<text x="38.20" y="553.10" font-size="10" text-anchor="end">8</text>
<line x1="47.20" y1="669.40" x2="47.20" y2="672.80" stroke="#262626" stroke-width="1"/>
<line x1="84.20" y1="669.40" x2="84.20" y2="672.80" stroke="#262626" stroke-width="1"/>
<line x1="121.20" y1="669.40" x2="121.20" y2="672.80" stroke="#262626" stroke-width="1"/>
<text x="21.00" y="610.00" font-size="10" text-anchor="middle" transform="rotate(-90 21.00 610.00)">Relative Luciferase activity</text>
<rect x="52.90" y="654.41" width="12.30" height="14.99" fill="#5B9BD5" stroke="#1f1f1f" stroke-width="0.8"/>
<rect x="65.20" y="643.62" width="12.30" height="25.78" fill="#ED7D31" stroke="#1f1f1f" stroke-width="0.8"/>
<line x1="71.35" y1="639.22" x2="71.35" y2="648.02" stroke="#0c0c0c" stroke-width="1.0"/>
<line x1="69.15" y1="639.22" x2="73.55" y2="639.22" stroke="#0c0c0c" stroke-width="1.0"/>
<line x1="69.15" y1="648.02" x2="73.55" y2="648.02" stroke="#0c0c0c" stroke-width="1.0"/>
<rect x="89.90" y="579.03" width="12.30" height="90.37" fill="#5B9BD5" stroke="#1f1f1f" stroke-width="0.8"/>
<rect x="102.20" y="628.03" width="12.30" height="41.37" fill="#ED7D31" stroke="#1f1f1f" stroke-width="0.8"/>
<line x1="96.05" y1="573.53" x2="96.05" y2="584.53" stroke="#0c0c0c" stroke-width="1.0"/>
<line x1="93.85" y1="573.53" x2="98.25" y2="573.53" stroke="#0c0c0c" stroke-width="1.0"/>
<line x1="93.85" y1="584.53" x2="98.25" y2="584.53" stroke="#0c0c0c" stroke-width="1.0"/>
<line x1="108.35" y1="618.53" x2="108.35" y2="637.53" stroke="#0c0c0c" stroke-width="1.0"/>
<line x1="106.15" y1="618.53" x2="110.55" y2="618.53" stroke="#0c0c0c" stroke-width="1.0"/>
<line x1="106.15" y1="637.53" x2="110.55" y2="637.53" stroke="#0c0c0c" stroke-width="1.0"/>
<text x="65.20" y="684.10" font-size="10" text-anchor="middle">vec</text>
<text x="103.00" y="684.10" font-size="10" text-anchor="middle">UHRF1</text>
<rect x="53.70" y="551.40" width="5.20" height="5.40" fill="#5B9BD5" stroke="#1f1f1f" stroke-width="0.7"/>
<text x="61.00" y="557.00" font-size="10" font-weight="400" class="r">DMSO</text>
<rect x="53.70" y="562.90" width="5.20" height="5.40" fill="#ED7D31" stroke="#1f1f1f" stroke-width="0.7"/>
<text x="61.00" y="568.40" font-size="10" font-weight="400" class="r">PD0325901</text>
<text x="145.00" y="587.20" font-size="10.3" text-anchor="middle">vec</text>
<text x="174.30" y="587.20" font-size="10.3" text-anchor="middle">UHRF1</text>
<text x="193.50" y="587.20" font-size="10">PGL3-basic</text>
<line x1="131.50" y1="591.50" x2="157.00" y2="591.50" stroke="#161616" stroke-width="1.1"/>
<line x1="161.90" y1="591.50" x2="188.20" y2="591.50" stroke="#161616" stroke-width="1.1"/>
<text x="138.00" y="602.78" font-size="14" text-anchor="middle">-</text>
<text x="152.70" y="602.29" font-size="11.5" text-anchor="middle">+</text>
<text x="167.70" y="602.78" font-size="14" text-anchor="middle">-</text>
<text x="182.40" y="602.29" font-size="11.5" text-anchor="middle">+</text>
<text x="193.50" y="601.00" font-size="10">PD0325901</text>
<rect x="131.20" y="605.40" width="58.40" height="15.40" fill="#e6e6e6"/>
<clipPath id="c714"><rect x="131.20" y="605.40" width="58.40" height="15.40"/></clipPath>
<g clip-path="url(#c714)"><g filter="url(#b40)">
<path d="M134.50 616.20Q138.60 616.20 142.70 616.20" fill="none" stroke="#0a0a0a" stroke-width="2.30" stroke-linecap="round" opacity="0.95" transform="rotate(11 138.60 616.20)"/>
<path d="M134.05 609.60Q138.00 609.60 141.95 609.60" fill="none" stroke="#0a0a0a" stroke-width="1.10" stroke-linecap="round" opacity="0.22" transform="rotate(6 138.00 609.60)"/>
<path d="M164.25 619.50Q168.30 619.50 172.35 619.50" fill="none" stroke="#0a0a0a" stroke-width="2.40" stroke-linecap="round" opacity="0.90"/>
<path d="M163.30 612.50Q167.50 612.50 171.70 612.50" fill="none" stroke="#0a0a0a" stroke-width="1.10" stroke-linecap="round" opacity="0.20"/>
</g></g>
<rect x="131.20" y="605.40" width="58.40" height="15.40" fill="none" stroke="#141414" stroke-width="1.2"/>
<rect x="131.20" y="625.20" width="58.40" height="15.30" fill="#d2d2d2"/>
<clipPath id="c723"><rect x="131.20" y="625.20" width="58.40" height="15.30"/></clipPath>
<g clip-path="url(#c723)"><g filter="url(#b40)">
<path d="M134.05 629.80Q138.00 629.80 141.95 629.80" fill="none" stroke="#0a0a0a" stroke-width="2.60" stroke-linecap="round" opacity="0.95" transform="rotate(8 138.00 629.80)"/>
<path d="M147.60 631.30Q152.20 631.30 156.80 631.30" fill="none" stroke="#0a0a0a" stroke-width="2.30" stroke-linecap="round" opacity="0.92" transform="rotate(3 152.20 631.30)"/>
<path d="M163.05 631.50Q167.40 631.50 171.75 631.50" fill="none" stroke="#0a0a0a" stroke-width="2.30" stroke-linecap="round" opacity="0.92"/>
<path d="M177.25 631.00Q182.60 631.00 187.95 631.00" fill="none" stroke="#0a0a0a" stroke-width="1.80" stroke-linecap="round" opacity="0.90" transform="rotate(-2 182.60 631.00)"/>
<path d="M134.35 636.20Q138.50 636.20 142.65 636.20" fill="none" stroke="#0a0a0a" stroke-width="3.20" stroke-linecap="round" opacity="0.97" transform="rotate(12 138.50 636.20)"/>
<path d="M147.70 637.90Q153.00 637.90 158.30 637.90" fill="none" stroke="#0a0a0a" stroke-width="2.90" stroke-linecap="round" opacity="0.97" transform="rotate(3 153.00 637.90)"/>
<path d="M163.25 638.50Q167.80 638.50 172.35 638.50" fill="none" stroke="#0a0a0a" stroke-width="2.90" stroke-linecap="round" opacity="0.97"/>
<path d="M177.65 638.00Q183.00 638.00 188.35 638.00" fill="none" stroke="#0a0a0a" stroke-width="2.80" stroke-linecap="round" opacity="0.97"/>
</g></g>
<rect x="131.20" y="625.20" width="58.40" height="15.30" fill="none" stroke="#141414" stroke-width="1.2"/>
<text x="193.50" y="616.90" font-size="10">P-ERK1/2</text>
<text x="193.50" y="637.00" font-size="10">ERK1/2</text>
<text x="137.50" y="652.30" font-size="10" text-anchor="middle">1</text>
<text x="152.20" y="652.30" font-size="10" text-anchor="middle">2</text>
<text x="167.20" y="652.30" font-size="10" text-anchor="middle">3</text>
<text x="181.90" y="652.30" font-size="10" text-anchor="middle">4</text>
<text x="275.60" y="502.80" font-size="18.5">(h)</text>
<line x1="313.00" y1="521.30" x2="339.00" y2="521.30" stroke="#222" stroke-width="1" stroke-dasharray="4.2 2.2"/>
<line x1="338.50" y1="521.30" x2="526.80" y2="521.30" stroke="#111" stroke-width="1.1"/>
<line x1="529.60" y1="521.30" x2="542.00" y2="521.30" stroke="#222" stroke-width="1" stroke-dasharray="4.2 2.6"/>
<line x1="394.70" y1="515.90" x2="394.70" y2="521.30" stroke="#222" stroke-width="1"/>
<line x1="497.20" y1="515.90" x2="497.20" y2="521.30" stroke="#222" stroke-width="1"/>
<path d="M445.60 521.30V511.50H467.20" fill="none" stroke="#111" stroke-width="1"/>
<path d="M466.90 508.90L472.20 511.50L466.90 514.10Z" fill="#111"/>
<text x="395.40" y="508.60" font-size="10" text-anchor="middle">-1kb</text>
<text x="446.00" y="498.60" font-size="10" text-anchor="middle">TSS</text>
<text x="498.10" y="508.60" font-size="10" text-anchor="middle">+1kb</text>
<text x="282.40" y="535.20" font-size="10.3"><tspan font-style="italic">DNMT1</tspan> (-475 bp, +1381 bp)</text>
<line x1="420.10" y1="532.20" x2="519.90" y2="532.20" stroke="#0a0a0a" stroke-width="2"/>
<line x1="331.50" y1="549.00" x2="331.50" y2="669.90" stroke="#262626" stroke-width="1"/>
<line x1="331.00" y1="669.40" x2="404.60" y2="669.40" stroke="#262626" stroke-width="1"/>
<line x1="328.10" y1="669.40" x2="331.50" y2="669.40" stroke="#262626" stroke-width="1"/>
<text x="322.50" y="673.00" font-size="10" text-anchor="end">0</text>
<line x1="328.10" y1="645.42" x2="331.50" y2="645.42" stroke="#262626" stroke-width="1"/>
<text x="322.50" y="649.02" font-size="10" text-anchor="end">5</text>
<line x1="328.10" y1="621.44" x2="331.50" y2="621.44" stroke="#262626" stroke-width="1"/>
<text x="322.50" y="625.04" font-size="10" text-anchor="end">10</text>
<line x1="328.10" y1="597.46" x2="331.50" y2="597.46" stroke="#262626" stroke-width="1"/>
<text x="322.50" y="601.06" font-size="10" text-anchor="end">15</text>
<line x1="328.10" y1="573.48" x2="331.50" y2="573.48" stroke="#262626" stroke-width="1"/>
<text x="322.50" y="577.08" font-size="10" text-anchor="end">20</text>
<line x1="328.10" y1="549.50" x2="331.50" y2="549.50" stroke="#262626" stroke-width="1"/>
<text x="322.50" y="553.10" font-size="10" text-anchor="end">25</text>
<line x1="331.50" y1="669.40" x2="331.50" y2="672.80" stroke="#262626" stroke-width="1"/>
<line x1="367.90" y1="669.40" x2="367.90" y2="672.80" stroke="#262626" stroke-width="1"/>
<line x1="404.30" y1="669.40" x2="404.30" y2="672.80" stroke="#262626" stroke-width="1"/>
<text x="302.30" y="610.00" font-size="10" text-anchor="middle" transform="rotate(-90 302.30 610.00)">Relative Luciferase activity</text>
<rect x="337.00" y="664.41" width="12.05" height="4.99" fill="#5B9BD5" stroke="#1f1f1f" stroke-width="0.8"/>
<rect x="349.05" y="658.85" width="12.05" height="10.55" fill="#ED7D31" stroke="#1f1f1f" stroke-width="0.8"/>
<line x1="355.07" y1="655.95" x2="355.07" y2="661.75" stroke="#0c0c0c" stroke-width="1.0"/>
<line x1="352.88" y1="655.95" x2="357.27" y2="655.95" stroke="#0c0c0c" stroke-width="1.0"/>
<line x1="352.88" y1="661.75" x2="357.27" y2="661.75" stroke="#0c0c0c" stroke-width="1.0"/>
<rect x="373.40" y="592.33" width="12.05" height="77.07" fill="#5B9BD5" stroke="#1f1f1f" stroke-width="0.8"/>
<rect x="385.45" y="632.47" width="12.05" height="36.93" fill="#ED7D31" stroke="#1f1f1f" stroke-width="0.8"/>
<line x1="379.42" y1="582.93" x2="379.42" y2="601.73" stroke="#0c0c0c" stroke-width="1.0"/>
<line x1="377.22" y1="582.93" x2="381.62" y2="582.93" stroke="#0c0c0c" stroke-width="1.0"/>
<line x1="377.22" y1="601.73" x2="381.62" y2="601.73" stroke="#0c0c0c" stroke-width="1.0"/>
<line x1="391.47" y1="629.37" x2="391.47" y2="635.57" stroke="#0c0c0c" stroke-width="1.0"/>
<line x1="389.27" y1="629.37" x2="393.67" y2="629.37" stroke="#0c0c0c" stroke-width="1.0"/>
<line x1="389.27" y1="635.57" x2="393.67" y2="635.57" stroke="#0c0c0c" stroke-width="1.0"/>
<text x="349.20" y="684.10" font-size="10" text-anchor="middle">vec</text>
<text x="384.50" y="684.10" font-size="10" text-anchor="middle">DNMT1</text>
<rect x="341.80" y="551.40" width="5.20" height="5.40" fill="#5B9BD5" stroke="#1f1f1f" stroke-width="0.7"/>
<text x="349.10" y="557.00" font-size="10" font-weight="400" class="r">DMSO</text>
<rect x="341.80" y="564.70" width="5.20" height="5.40" fill="#ED7D31" stroke="#1f1f1f" stroke-width="0.7"/>
<text x="349.10" y="570.20" font-size="10" font-weight="400" class="r">PD0325901</text>
<text x="429.60" y="587.20" font-size="10.3" text-anchor="middle">vec</text>
<text x="457.00" y="587.20" font-size="10.3" text-anchor="middle">DNMT1</text>
<text x="477.50" y="587.20" font-size="10">PGL3-basic</text>
<line x1="416.20" y1="591.50" x2="442.00" y2="591.50" stroke="#161616" stroke-width="1.1"/>
<line x1="445.00" y1="591.50" x2="471.00" y2="591.50" stroke="#161616" stroke-width="1.1"/>
<text x="422.30" y="602.78" font-size="14" text-anchor="middle">-</text>
<text x="436.20" y="602.29" font-size="11.5" text-anchor="middle">+</text>
<text x="450.60" y="602.78" font-size="14" text-anchor="middle">-</text>
<text x="465.30" y="602.29" font-size="11.5" text-anchor="middle">+</text>
<text x="477.50" y="601.00" font-size="10">PD0325901</text>
<rect x="415.20" y="605.40" width="58.40" height="15.40" fill="#e6e6e6"/>
<clipPath id="c802"><rect x="415.20" y="605.40" width="58.40" height="15.40"/></clipPath>
<g clip-path="url(#c802)"><g filter="url(#b40)">
<path d="M419.00 617.50Q423.00 617.50 427.00 617.50" fill="none" stroke="#0a0a0a" stroke-width="2.60" stroke-linecap="round" opacity="0.97"/>
<path d="M418.35 610.30Q422.60 610.30 426.85 610.30" fill="none" stroke="#0a0a0a" stroke-width="1.30" stroke-linecap="round" opacity="0.45"/>
<path d="M447.40 618.50Q451.40 618.50 455.40 618.50" fill="none" stroke="#0a0a0a" stroke-width="2.60" stroke-linecap="round" opacity="0.97"/>
<path d="M447.45 611.00Q451.40 611.00 455.35 611.00" fill="none" stroke="#0a0a0a" stroke-width="1.10" stroke-linecap="round" opacity="0.20"/>
</g></g>
<rect x="415.20" y="605.40" width="58.40" height="15.40" fill="none" stroke="#141414" stroke-width="1.2"/>
<rect x="415.20" y="625.20" width="58.40" height="15.30" fill="#d6d6d6"/>
<clipPath id="c811"><rect x="415.20" y="625.20" width="58.40" height="15.30"/></clipPath>
<g clip-path="url(#c811)"><g filter="url(#b40)">
<path d="M418.95 630.95Q423.00 630.35 427.05 630.95" fill="none" stroke="#0a0a0a" stroke-width="2.50" stroke-linecap="round" opacity="0.95"/>
<path d="M418.80 638.00Q423.00 637.60 427.20 638.00" fill="none" stroke="#0a0a0a" stroke-width="3.00" stroke-linecap="round" opacity="0.97"/>
<path d="M432.10 630.95Q436.60 630.35 441.10 630.95" fill="none" stroke="#0a0a0a" stroke-width="2.50" stroke-linecap="round" opacity="0.95"/>
<path d="M431.95 638.00Q436.60 637.60 441.25 638.00" fill="none" stroke="#0a0a0a" stroke-width="3.00" stroke-linecap="round" opacity="0.97"/>
<path d="M446.65 630.95Q451.00 630.35 455.35 630.95" fill="none" stroke="#0a0a0a" stroke-width="2.50" stroke-linecap="round" opacity="0.95"/>
<path d="M446.50 638.00Q451.00 637.60 455.50 638.00" fill="none" stroke="#0a0a0a" stroke-width="3.00" stroke-linecap="round" opacity="0.97"/>
<path d="M461.05 630.95Q466.30 630.35 471.55 630.95" fill="none" stroke="#0a0a0a" stroke-width="2.50" stroke-linecap="round" opacity="0.95"/>
<path d="M460.90 638.00Q466.30 637.60 471.70 638.00" fill="none" stroke="#0a0a0a" stroke-width="3.00" stroke-linecap="round" opacity="0.97"/>
</g></g>
<rect x="415.20" y="625.20" width="58.40" height="15.30" fill="none" stroke="#141414" stroke-width="1.2"/>
<text x="477.50" y="616.90" font-size="10">P-ERK1/2</text>
<text x="477.50" y="637.00" font-size="10">ERK1/2</text>
<text x="421.80" y="652.30" font-size="10" text-anchor="middle">1</text>
<text x="435.70" y="652.30" font-size="10" text-anchor="middle">2</text>
<text x="450.10" y="652.30" font-size="10" text-anchor="middle">3</text>
<text x="464.80" y="652.30" font-size="10" text-anchor="middle">4</text>
</svg>
</body></html>
